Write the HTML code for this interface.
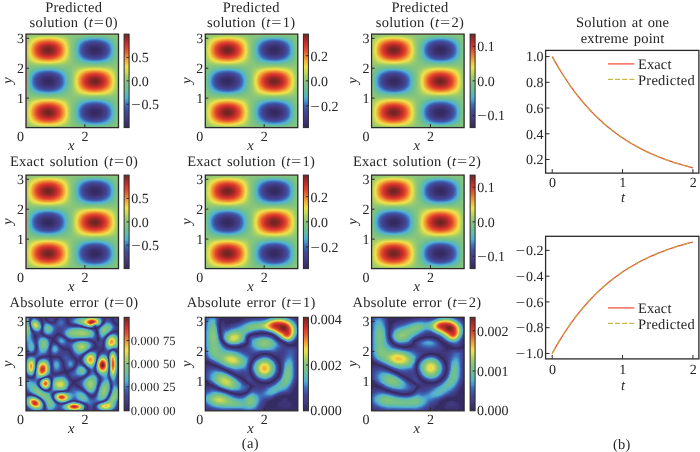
<!DOCTYPE html>
<html><head><meta charset="utf-8"><title>figure</title>
<style>
html,body{margin:0;padding:0;background:#fff;}
body{width:700px;height:452px;overflow:hidden;}
svg{display:block;font-family:"Liberation Serif",serif;fill:#262626;text-rendering:geometricPrecision;}
text{opacity:0.999;}
</style></head><body>
<svg width="700" height="452" viewBox="0 0 700 452">
<defs>
<linearGradient id="gx" x1="0" y1="0" x2="1" y2="0">
<stop offset="0.0000" stop-color="rgb(138,138,138)"/>
<stop offset="0.0208" stop-color="rgb(154,154,154)"/>
<stop offset="0.0417" stop-color="rgb(170,170,170)"/>
<stop offset="0.0625" stop-color="rgb(186,186,186)"/>
<stop offset="0.0833" stop-color="rgb(200,200,200)"/>
<stop offset="0.1042" stop-color="rgb(213,213,213)"/>
<stop offset="0.1250" stop-color="rgb(225,225,225)"/>
<stop offset="0.1458" stop-color="rgb(235,235,235)"/>
<stop offset="0.1667" stop-color="rgb(243,243,243)"/>
<stop offset="0.1875" stop-color="rgb(249,249,249)"/>
<stop offset="0.2083" stop-color="rgb(253,253,253)"/>
<stop offset="0.2292" stop-color="rgb(255,255,255)"/>
<stop offset="0.2500" stop-color="rgb(255,255,255)"/>
<stop offset="0.2708" stop-color="rgb(252,252,252)"/>
<stop offset="0.2917" stop-color="rgb(248,248,248)"/>
<stop offset="0.3125" stop-color="rgb(241,241,241)"/>
<stop offset="0.3333" stop-color="rgb(232,232,232)"/>
<stop offset="0.3542" stop-color="rgb(222,222,222)"/>
<stop offset="0.3750" stop-color="rgb(210,210,210)"/>
<stop offset="0.3958" stop-color="rgb(197,197,197)"/>
<stop offset="0.4167" stop-color="rgb(182,182,182)"/>
<stop offset="0.4375" stop-color="rgb(167,167,167)"/>
<stop offset="0.4583" stop-color="rgb(150,150,150)"/>
<stop offset="0.4792" stop-color="rgb(134,134,134)"/>
<stop offset="0.5000" stop-color="rgb(117,117,117)"/>
<stop offset="0.5208" stop-color="rgb(101,101,101)"/>
<stop offset="0.5417" stop-color="rgb(85,85,85)"/>
<stop offset="0.5625" stop-color="rgb(69,69,69)"/>
<stop offset="0.5833" stop-color="rgb(55,55,55)"/>
<stop offset="0.6042" stop-color="rgb(42,42,42)"/>
<stop offset="0.6250" stop-color="rgb(30,30,30)"/>
<stop offset="0.6458" stop-color="rgb(20,20,20)"/>
<stop offset="0.6667" stop-color="rgb(12,12,12)"/>
<stop offset="0.6875" stop-color="rgb(6,6,6)"/>
<stop offset="0.7083" stop-color="rgb(2,2,2)"/>
<stop offset="0.7292" stop-color="rgb(0,0,0)"/>
<stop offset="0.7500" stop-color="rgb(0,0,0)"/>
<stop offset="0.7708" stop-color="rgb(3,3,3)"/>
<stop offset="0.7917" stop-color="rgb(7,7,7)"/>
<stop offset="0.8125" stop-color="rgb(14,14,14)"/>
<stop offset="0.8333" stop-color="rgb(23,23,23)"/>
<stop offset="0.8542" stop-color="rgb(33,33,33)"/>
<stop offset="0.8750" stop-color="rgb(45,45,45)"/>
<stop offset="0.8958" stop-color="rgb(58,58,58)"/>
<stop offset="0.9167" stop-color="rgb(73,73,73)"/>
<stop offset="0.9375" stop-color="rgb(88,88,88)"/>
<stop offset="0.9583" stop-color="rgb(105,105,105)"/>
<stop offset="0.9792" stop-color="rgb(121,121,121)"/>
<stop offset="1.0000" stop-color="rgb(138,138,138)"/>
</linearGradient>
<linearGradient id="gy" x1="0" y1="0" x2="0" y2="1">
<stop offset="0.0000" stop-color="rgb(121,121,121)"/>
<stop offset="0.0139" stop-color="rgb(138,138,138)"/>
<stop offset="0.0278" stop-color="rgb(154,154,154)"/>
<stop offset="0.0417" stop-color="rgb(170,170,170)"/>
<stop offset="0.0556" stop-color="rgb(186,186,186)"/>
<stop offset="0.0694" stop-color="rgb(200,200,200)"/>
<stop offset="0.0833" stop-color="rgb(213,213,213)"/>
<stop offset="0.0972" stop-color="rgb(225,225,225)"/>
<stop offset="0.1111" stop-color="rgb(235,235,235)"/>
<stop offset="0.1250" stop-color="rgb(243,243,243)"/>
<stop offset="0.1389" stop-color="rgb(249,249,249)"/>
<stop offset="0.1528" stop-color="rgb(253,253,253)"/>
<stop offset="0.1667" stop-color="rgb(255,255,255)"/>
<stop offset="0.1806" stop-color="rgb(255,255,255)"/>
<stop offset="0.1944" stop-color="rgb(252,252,252)"/>
<stop offset="0.2083" stop-color="rgb(248,248,248)"/>
<stop offset="0.2222" stop-color="rgb(241,241,241)"/>
<stop offset="0.2361" stop-color="rgb(232,232,232)"/>
<stop offset="0.2500" stop-color="rgb(222,222,222)"/>
<stop offset="0.2639" stop-color="rgb(210,210,210)"/>
<stop offset="0.2778" stop-color="rgb(197,197,197)"/>
<stop offset="0.2917" stop-color="rgb(182,182,182)"/>
<stop offset="0.3056" stop-color="rgb(167,167,167)"/>
<stop offset="0.3194" stop-color="rgb(150,150,150)"/>
<stop offset="0.3333" stop-color="rgb(134,134,134)"/>
<stop offset="0.3472" stop-color="rgb(117,117,117)"/>
<stop offset="0.3611" stop-color="rgb(101,101,101)"/>
<stop offset="0.3750" stop-color="rgb(85,85,85)"/>
<stop offset="0.3889" stop-color="rgb(69,69,69)"/>
<stop offset="0.4028" stop-color="rgb(55,55,55)"/>
<stop offset="0.4167" stop-color="rgb(42,42,42)"/>
<stop offset="0.4306" stop-color="rgb(30,30,30)"/>
<stop offset="0.4444" stop-color="rgb(20,20,20)"/>
<stop offset="0.4583" stop-color="rgb(12,12,12)"/>
<stop offset="0.4722" stop-color="rgb(6,6,6)"/>
<stop offset="0.4861" stop-color="rgb(2,2,2)"/>
<stop offset="0.5000" stop-color="rgb(0,0,0)"/>
<stop offset="0.5139" stop-color="rgb(0,0,0)"/>
<stop offset="0.5278" stop-color="rgb(3,3,3)"/>
<stop offset="0.5417" stop-color="rgb(7,7,7)"/>
<stop offset="0.5556" stop-color="rgb(14,14,14)"/>
<stop offset="0.5694" stop-color="rgb(23,23,23)"/>
<stop offset="0.5833" stop-color="rgb(33,33,33)"/>
<stop offset="0.5972" stop-color="rgb(45,45,45)"/>
<stop offset="0.6111" stop-color="rgb(58,58,58)"/>
<stop offset="0.6250" stop-color="rgb(73,73,73)"/>
<stop offset="0.6389" stop-color="rgb(88,88,88)"/>
<stop offset="0.6528" stop-color="rgb(105,105,105)"/>
<stop offset="0.6667" stop-color="rgb(121,121,121)"/>
<stop offset="0.6806" stop-color="rgb(138,138,138)"/>
<stop offset="0.6944" stop-color="rgb(154,154,154)"/>
<stop offset="0.7083" stop-color="rgb(170,170,170)"/>
<stop offset="0.7222" stop-color="rgb(186,186,186)"/>
<stop offset="0.7361" stop-color="rgb(200,200,200)"/>
<stop offset="0.7500" stop-color="rgb(213,213,213)"/>
<stop offset="0.7639" stop-color="rgb(225,225,225)"/>
<stop offset="0.7778" stop-color="rgb(235,235,235)"/>
<stop offset="0.7917" stop-color="rgb(243,243,243)"/>
<stop offset="0.8056" stop-color="rgb(249,249,249)"/>
<stop offset="0.8194" stop-color="rgb(253,253,253)"/>
<stop offset="0.8333" stop-color="rgb(255,255,255)"/>
<stop offset="0.8472" stop-color="rgb(255,255,255)"/>
<stop offset="0.8611" stop-color="rgb(252,252,252)"/>
<stop offset="0.8750" stop-color="rgb(248,248,248)"/>
<stop offset="0.8889" stop-color="rgb(241,241,241)"/>
<stop offset="0.9028" stop-color="rgb(232,232,232)"/>
<stop offset="0.9167" stop-color="rgb(222,222,222)"/>
<stop offset="0.9306" stop-color="rgb(210,210,210)"/>
<stop offset="0.9444" stop-color="rgb(197,197,197)"/>
<stop offset="0.9583" stop-color="rgb(182,182,182)"/>
<stop offset="0.9722" stop-color="rgb(167,167,167)"/>
<stop offset="0.9861" stop-color="rgb(150,150,150)"/>
<stop offset="1.0000" stop-color="rgb(134,134,134)"/>
</linearGradient>
<linearGradient id="cb" x1="0" y1="1" x2="0" y2="0">
<stop offset="0.0000" stop-color="#342a5f"/>
<stop offset="0.0156" stop-color="#362d65"/>
<stop offset="0.0312" stop-color="#382f6a"/>
<stop offset="0.0469" stop-color="#3a3270"/>
<stop offset="0.0625" stop-color="#3c3475"/>
<stop offset="0.0781" stop-color="#3e377b"/>
<stop offset="0.0938" stop-color="#403a81"/>
<stop offset="0.1094" stop-color="#433c86"/>
<stop offset="0.1250" stop-color="#443f8b"/>
<stop offset="0.1406" stop-color="#42428f"/>
<stop offset="0.1562" stop-color="#414593"/>
<stop offset="0.1719" stop-color="#404998"/>
<stop offset="0.1875" stop-color="#3f50a0"/>
<stop offset="0.2031" stop-color="#3e58a7"/>
<stop offset="0.2188" stop-color="#3f60ae"/>
<stop offset="0.2344" stop-color="#3f68b5"/>
<stop offset="0.2500" stop-color="#4171bc"/>
<stop offset="0.2656" stop-color="#4481c4"/>
<stop offset="0.2812" stop-color="#4791cc"/>
<stop offset="0.2969" stop-color="#4b9ed1"/>
<stop offset="0.3125" stop-color="#4facd6"/>
<stop offset="0.3281" stop-color="#54b2ce"/>
<stop offset="0.3438" stop-color="#58b5c3"/>
<stop offset="0.3594" stop-color="#5db8b7"/>
<stop offset="0.3750" stop-color="#61bbad"/>
<stop offset="0.3906" stop-color="#66bda3"/>
<stop offset="0.4062" stop-color="#6bbe99"/>
<stop offset="0.4219" stop-color="#70c08f"/>
<stop offset="0.4375" stop-color="#75c18b"/>
<stop offset="0.4531" stop-color="#7ac287"/>
<stop offset="0.4688" stop-color="#7fc483"/>
<stop offset="0.4844" stop-color="#84c57f"/>
<stop offset="0.5000" stop-color="#89c67b"/>
<stop offset="0.5156" stop-color="#92c974"/>
<stop offset="0.5312" stop-color="#9bcc6d"/>
<stop offset="0.5469" stop-color="#a4cf67"/>
<stop offset="0.5625" stop-color="#b0d261"/>
<stop offset="0.5781" stop-color="#bdd65b"/>
<stop offset="0.5938" stop-color="#cbda56"/>
<stop offset="0.6094" stop-color="#d6dc53"/>
<stop offset="0.6250" stop-color="#e0de51"/>
<stop offset="0.6406" stop-color="#ebe04f"/>
<stop offset="0.6562" stop-color="#f1dc4c"/>
<stop offset="0.6719" stop-color="#f2d046"/>
<stop offset="0.6875" stop-color="#f2c440"/>
<stop offset="0.7031" stop-color="#f3b73b"/>
<stop offset="0.7188" stop-color="#f2ab38"/>
<stop offset="0.7344" stop-color="#f19e35"/>
<stop offset="0.7500" stop-color="#f09132"/>
<stop offset="0.7656" stop-color="#ed8431"/>
<stop offset="0.7812" stop-color="#eb7630"/>
<stop offset="0.7969" stop-color="#e8692f"/>
<stop offset="0.8125" stop-color="#e55b2e"/>
<stop offset="0.8281" stop-color="#e3502d"/>
<stop offset="0.8438" stop-color="#e0472d"/>
<stop offset="0.8594" stop-color="#dd3e2d"/>
<stop offset="0.8750" stop-color="#db352d"/>
<stop offset="0.8906" stop-color="#d2312c"/>
<stop offset="0.9062" stop-color="#c52e2b"/>
<stop offset="0.9219" stop-color="#b82c2a"/>
<stop offset="0.9375" stop-color="#ac2a28"/>
<stop offset="0.9531" stop-color="#9d2927"/>
<stop offset="0.9688" stop-color="#8e2825"/>
<stop offset="0.9844" stop-color="#7f2724"/>
<stop offset="1.0000" stop-color="#702622"/>
</linearGradient>
<linearGradient id="cbe" href="#cb"/>
<filter id="fs" filterUnits="userSpaceOnUse" x="0" y="0" width="189" height="93.5" color-interpolation-filters="sRGB">
<feOffset in="SourceGraphic" dx="-94.5" dy="0" result="B"/>
<feComposite in="SourceGraphic" in2="B" operator="arithmetic" k1="2" k2="-1" k3="-1" k4="1" result="P"/>
<feComponentTransfer in="P"><feFuncR type="table" tableValues="0.204 0.208 0.213 0.217 0.222 0.226 0.231 0.235 0.239 0.244 0.248 0.252 0.257 0.261 0.266 0.265 0.262 0.259 0.256 0.254 0.251 0.249 0.247 0.245 0.243 0.245 0.246 0.247 0.249 0.250 0.253 0.259 0.266 0.272 0.280 0.287 0.295 0.303 0.311 0.319 0.328 0.337 0.346 0.355 0.364 0.372 0.381 0.390 0.399 0.408 0.417 0.426 0.434 0.443 0.453 0.462 0.471 0.480 0.489 0.497 0.506 0.514 0.523 0.530 0.537 0.550 0.563 0.578 0.593 0.608 0.624 0.640 0.656 0.679 0.703 0.727 0.751 0.776 0.800 0.823 0.842 0.862 0.882 0.901 0.921 0.941 0.946 0.947 0.948 0.950 0.951 0.952 0.952 0.950 0.948 0.947 0.945 0.943 0.941 0.935 0.930 0.924 0.919 0.913 0.908 0.902 0.897 0.891 0.886 0.881 0.875 0.870 0.864 0.859 0.848 0.822 0.796 0.770 0.744 0.717 0.691 0.664 0.632 0.600 0.568 0.536 0.504 0.471 0.439"/><feFuncG type="table" tableValues="0.165 0.170 0.176 0.181 0.187 0.192 0.198 0.203 0.209 0.214 0.220 0.225 0.231 0.236 0.242 0.248 0.254 0.260 0.267 0.273 0.280 0.294 0.309 0.323 0.338 0.354 0.371 0.387 0.403 0.419 0.440 0.472 0.505 0.537 0.567 0.594 0.622 0.649 0.677 0.690 0.697 0.704 0.710 0.717 0.723 0.729 0.733 0.736 0.739 0.742 0.745 0.748 0.751 0.754 0.756 0.758 0.761 0.763 0.765 0.767 0.769 0.771 0.773 0.775 0.776 0.780 0.785 0.790 0.794 0.799 0.804 0.810 0.815 0.821 0.828 0.834 0.841 0.848 0.855 0.860 0.864 0.867 0.871 0.874 0.878 0.882 0.864 0.840 0.816 0.792 0.768 0.744 0.720 0.694 0.669 0.643 0.617 0.591 0.566 0.538 0.511 0.484 0.457 0.429 0.402 0.375 0.347 0.324 0.305 0.286 0.267 0.248 0.229 0.210 0.195 0.191 0.186 0.182 0.178 0.173 0.169 0.165 0.162 0.160 0.158 0.156 0.153 0.151 0.149"/><feFuncB type="table" tableValues="0.373 0.385 0.396 0.408 0.420 0.432 0.444 0.456 0.468 0.480 0.491 0.503 0.515 0.527 0.538 0.547 0.556 0.564 0.572 0.581 0.589 0.605 0.621 0.636 0.652 0.665 0.679 0.692 0.706 0.719 0.734 0.751 0.769 0.786 0.799 0.809 0.819 0.829 0.840 0.829 0.807 0.785 0.763 0.741 0.720 0.698 0.679 0.660 0.641 0.623 0.604 0.586 0.567 0.554 0.547 0.540 0.533 0.526 0.519 0.513 0.506 0.500 0.493 0.488 0.482 0.473 0.463 0.452 0.441 0.430 0.418 0.406 0.394 0.384 0.375 0.365 0.355 0.345 0.336 0.328 0.325 0.321 0.317 0.314 0.310 0.307 0.297 0.286 0.275 0.264 0.253 0.242 0.233 0.227 0.220 0.214 0.208 0.202 0.196 0.194 0.191 0.189 0.187 0.184 0.182 0.180 0.178 0.176 0.176 0.176 0.176 0.176 0.176 0.176 0.176 0.173 0.170 0.168 0.165 0.162 0.159 0.157 0.153 0.150 0.147 0.143 0.140 0.137 0.133"/></feComponentTransfer>
</filter>
<radialGradient id="gp">
<stop offset="0.00" stop-color="#fff" stop-opacity="1.000"/>
<stop offset="0.05" stop-color="#fff" stop-opacity="0.989"/>
<stop offset="0.10" stop-color="#fff" stop-opacity="0.957"/>
<stop offset="0.15" stop-color="#fff" stop-opacity="0.906"/>
<stop offset="0.20" stop-color="#fff" stop-opacity="0.839"/>
<stop offset="0.25" stop-color="#fff" stop-opacity="0.762"/>
<stop offset="0.30" stop-color="#fff" stop-opacity="0.678"/>
<stop offset="0.35" stop-color="#fff" stop-opacity="0.592"/>
<stop offset="0.40" stop-color="#fff" stop-opacity="0.508"/>
<stop offset="0.45" stop-color="#fff" stop-opacity="0.429"/>
<stop offset="0.50" stop-color="#fff" stop-opacity="0.356"/>
<stop offset="0.55" stop-color="#fff" stop-opacity="0.292"/>
<stop offset="0.60" stop-color="#fff" stop-opacity="0.235"/>
<stop offset="0.65" stop-color="#fff" stop-opacity="0.186"/>
<stop offset="0.70" stop-color="#fff" stop-opacity="0.144"/>
<stop offset="0.75" stop-color="#fff" stop-opacity="0.108"/>
<stop offset="0.80" stop-color="#fff" stop-opacity="0.078"/>
<stop offset="0.85" stop-color="#fff" stop-opacity="0.052"/>
<stop offset="0.90" stop-color="#fff" stop-opacity="0.030"/>
<stop offset="0.95" stop-color="#fff" stop-opacity="0.013"/>
<stop offset="1.00" stop-color="#fff" stop-opacity="0.003"/>
</radialGradient>
<radialGradient id="gn">
<stop offset="0.00" stop-color="#000" stop-opacity="1.000"/>
<stop offset="0.05" stop-color="#000" stop-opacity="0.989"/>
<stop offset="0.10" stop-color="#000" stop-opacity="0.957"/>
<stop offset="0.15" stop-color="#000" stop-opacity="0.906"/>
<stop offset="0.20" stop-color="#000" stop-opacity="0.839"/>
<stop offset="0.25" stop-color="#000" stop-opacity="0.762"/>
<stop offset="0.30" stop-color="#000" stop-opacity="0.678"/>
<stop offset="0.35" stop-color="#000" stop-opacity="0.592"/>
<stop offset="0.40" stop-color="#000" stop-opacity="0.508"/>
<stop offset="0.45" stop-color="#000" stop-opacity="0.429"/>
<stop offset="0.50" stop-color="#000" stop-opacity="0.356"/>
<stop offset="0.55" stop-color="#000" stop-opacity="0.292"/>
<stop offset="0.60" stop-color="#000" stop-opacity="0.235"/>
<stop offset="0.65" stop-color="#000" stop-opacity="0.186"/>
<stop offset="0.70" stop-color="#000" stop-opacity="0.144"/>
<stop offset="0.75" stop-color="#000" stop-opacity="0.108"/>
<stop offset="0.80" stop-color="#000" stop-opacity="0.078"/>
<stop offset="0.85" stop-color="#000" stop-opacity="0.052"/>
<stop offset="0.90" stop-color="#000" stop-opacity="0.030"/>
<stop offset="0.95" stop-color="#000" stop-opacity="0.013"/>
<stop offset="1.00" stop-color="#000" stop-opacity="0.003"/>
</radialGradient>
<filter id="fe" filterUnits="userSpaceOnUse" x="-10" y="-10" width="232.5" height="113.5" color-interpolation-filters="sRGB">
<feOffset in="SourceGraphic" dx="-120" dy="0" result="N"/>
<feComposite in="SourceGraphic" in2="N" operator="arithmetic" k1="0" k2="0.5" k3="0.5" k4="0" result="S"/>
<feGaussianBlur in="S" stdDeviation="0.7" result="G"/>
<feComponentTransfer in="G"><feFuncR type="table" tableValues="0.439 0.481 0.523 0.564 0.607 0.649 0.687 0.723 0.758 0.794 0.830 0.857 0.865 0.873 0.880 0.888 0.896 0.904 0.912 0.920 0.928 0.936 0.942 0.945 0.948 0.951 0.952 0.950 0.948 0.946 0.925 0.891 0.856 0.821 0.777 0.731 0.684 0.644 0.611 0.578 0.545 0.523 0.503 0.484 0.464 0.444 0.425 0.406 0.387 0.367 0.348 0.328 0.308 0.290 0.272 0.256 0.249 0.245 0.245 0.251 0.259 0.265 0.250 0.232 0.204 0.232 0.250 0.265 0.259 0.251 0.245 0.245 0.249 0.256 0.272 0.290 0.308 0.328 0.348 0.367 0.387 0.406 0.425 0.444 0.464 0.484 0.503 0.523 0.545 0.578 0.611 0.644 0.684 0.731 0.777 0.821 0.856 0.891 0.925 0.946 0.948 0.950 0.952 0.951 0.948 0.945 0.942 0.936 0.928 0.920 0.912 0.904 0.896 0.888 0.880 0.873 0.865 0.857 0.830 0.794 0.758 0.723 0.687 0.649 0.607 0.564 0.523 0.481 0.439"/><feFuncG type="table" tableValues="0.149 0.152 0.155 0.158 0.161 0.163 0.168 0.174 0.180 0.186 0.192 0.204 0.231 0.258 0.285 0.312 0.341 0.382 0.422 0.463 0.504 0.545 0.586 0.626 0.666 0.707 0.747 0.786 0.826 0.866 0.879 0.872 0.866 0.860 0.848 0.835 0.823 0.811 0.800 0.790 0.779 0.773 0.768 0.764 0.759 0.754 0.748 0.741 0.734 0.725 0.711 0.696 0.667 0.603 0.536 0.457 0.404 0.362 0.321 0.280 0.261 0.241 0.222 0.200 0.165 0.200 0.222 0.241 0.261 0.280 0.321 0.362 0.404 0.457 0.536 0.603 0.667 0.696 0.711 0.725 0.734 0.741 0.748 0.754 0.759 0.764 0.768 0.773 0.779 0.790 0.800 0.811 0.823 0.835 0.848 0.860 0.866 0.872 0.879 0.866 0.826 0.786 0.747 0.707 0.666 0.626 0.586 0.545 0.504 0.463 0.422 0.382 0.341 0.312 0.285 0.258 0.231 0.204 0.192 0.186 0.180 0.174 0.168 0.163 0.161 0.158 0.155 0.152 0.149"/><feFuncB type="table" tableValues="0.133 0.138 0.142 0.146 0.151 0.155 0.159 0.163 0.166 0.170 0.174 0.176 0.176 0.176 0.176 0.176 0.177 0.180 0.184 0.187 0.191 0.194 0.200 0.210 0.220 0.230 0.243 0.262 0.280 0.298 0.310 0.316 0.322 0.328 0.345 0.363 0.382 0.403 0.427 0.452 0.477 0.494 0.508 0.523 0.538 0.553 0.587 0.627 0.668 0.712 0.760 0.809 0.836 0.812 0.785 0.743 0.706 0.672 0.633 0.590 0.565 0.538 0.497 0.449 0.373 0.449 0.497 0.538 0.565 0.590 0.633 0.672 0.706 0.743 0.785 0.812 0.836 0.809 0.760 0.712 0.668 0.627 0.587 0.553 0.538 0.523 0.508 0.494 0.477 0.452 0.427 0.403 0.382 0.363 0.345 0.328 0.322 0.316 0.310 0.298 0.280 0.262 0.243 0.230 0.220 0.210 0.200 0.194 0.191 0.187 0.184 0.180 0.177 0.176 0.176 0.176 0.176 0.176 0.174 0.170 0.166 0.163 0.159 0.155 0.151 0.146 0.142 0.138 0.133"/></feComponentTransfer>
</filter>
<clipPath id="cl"><rect x="0" y="0" width="92.5" height="93.5"/></clipPath>
<g id="sinmap" clip-path="url(#cl)"><g filter="url(#fs)">
<rect x="0" y="0" width="93.5" height="93.5" fill="url(#gx)"/>
<rect x="94.5" y="0" width="93.5" height="93.5" fill="url(#gy)"/>
</g></g>
</defs>
<use href="#sinmap" x="26" y="34.1"/>
<rect x="26" y="34.1" width="92.5" height="93.5" fill="none" stroke="#2a2a2a" stroke-width="1.3"/>
<path d="M26 98.1h3" stroke="#2a2a2a" stroke-width="1"/>
<text x="24" y="102.9" text-anchor="end" font-size="14" letter-spacing="0" >1</text>
<path d="M26 68.2h3" stroke="#2a2a2a" stroke-width="1"/>
<text x="24" y="73" text-anchor="end" font-size="14" letter-spacing="0" >2</text>
<path d="M26 38.3h3" stroke="#2a2a2a" stroke-width="1"/>
<text x="24" y="43.1" text-anchor="end" font-size="14" letter-spacing="0" >3</text>
<path d="M84.8873 127.6v-3.5" stroke="#2a2a2a" stroke-width="1"/>
<text x="84.8873" y="140.6" text-anchor="middle" font-size="14" letter-spacing="0" >2</text>
<text x="20.5" y="140.6" text-anchor="middle" font-size="14" letter-spacing="0" >0</text>
<text x="71.2" y="149.9" text-anchor="middle" font-size="14.5" letter-spacing="0" ><tspan font-style="italic">x</tspan></text>
<text transform="translate(11.6 80.6) rotate(-90)" text-anchor="middle" font-size="14.5" font-style="italic">y</text>
<rect x="124.1" y="34.1" width="5" height="93.5" fill="url(#cb)" stroke="#2a2a2a" stroke-width="1"/>
<path d="M129.1 104.225h-2.5" stroke="#2a2a2a" stroke-width="1"/>
<text x="131.3" y="109.025" text-anchor="start" font-size="14" letter-spacing="0" ><tspan textLength="9.4" lengthAdjust="spacingAndGlyphs">−</tspan><tspan dx="0.9">0.5</tspan></text>
<path d="M129.1 80.85h-2.5" stroke="#2a2a2a" stroke-width="1"/>
<text x="131.3" y="85.65" text-anchor="start" font-size="14" letter-spacing="0" >0.0</text>
<path d="M129.1 57.475h-2.5" stroke="#2a2a2a" stroke-width="1"/>
<text x="131.3" y="62.275" text-anchor="start" font-size="14" letter-spacing="0" >0.5</text>
<use href="#sinmap" x="205.3" y="34.1"/>
<rect x="205.3" y="34.1" width="92.5" height="93.5" fill="none" stroke="#2a2a2a" stroke-width="1.3"/>
<path d="M205.3 98.1h3" stroke="#2a2a2a" stroke-width="1"/>
<text x="203.3" y="102.9" text-anchor="end" font-size="14" letter-spacing="0" >1</text>
<path d="M205.3 68.2h3" stroke="#2a2a2a" stroke-width="1"/>
<text x="203.3" y="73" text-anchor="end" font-size="14" letter-spacing="0" >2</text>
<path d="M205.3 38.3h3" stroke="#2a2a2a" stroke-width="1"/>
<text x="203.3" y="43.1" text-anchor="end" font-size="14" letter-spacing="0" >3</text>
<path d="M264.187 127.6v-3.5" stroke="#2a2a2a" stroke-width="1"/>
<text x="264.187" y="140.6" text-anchor="middle" font-size="14" letter-spacing="0" >2</text>
<text x="199.8" y="140.6" text-anchor="middle" font-size="14" letter-spacing="0" >0</text>
<text x="250.5" y="149.9" text-anchor="middle" font-size="14.5" letter-spacing="0" ><tspan font-style="italic">x</tspan></text>
<text transform="translate(190.9 80.6) rotate(-90)" text-anchor="middle" font-size="14.5" font-style="italic">y</text>
<rect x="303.4" y="34.1" width="5" height="93.5" fill="url(#cb)" stroke="#2a2a2a" stroke-width="1"/>
<path d="M308.4 105.984h-2.5" stroke="#2a2a2a" stroke-width="1"/>
<text x="310.6" y="110.784" text-anchor="start" font-size="14" letter-spacing="0" ><tspan textLength="9.4" lengthAdjust="spacingAndGlyphs">−</tspan><tspan dx="0.9">0.2</tspan></text>
<path d="M308.4 80.85h-2.5" stroke="#2a2a2a" stroke-width="1"/>
<text x="310.6" y="85.65" text-anchor="start" font-size="14" letter-spacing="0" >0.0</text>
<path d="M308.4 55.7156h-2.5" stroke="#2a2a2a" stroke-width="1"/>
<text x="310.6" y="60.5156" text-anchor="start" font-size="14" letter-spacing="0" >0.2</text>
<use href="#sinmap" x="371.6" y="34.1"/>
<rect x="371.6" y="34.1" width="92.5" height="93.5" fill="none" stroke="#2a2a2a" stroke-width="1.3"/>
<path d="M371.6 98.1h3" stroke="#2a2a2a" stroke-width="1"/>
<text x="369.6" y="102.9" text-anchor="end" font-size="14" letter-spacing="0" >1</text>
<path d="M371.6 68.2h3" stroke="#2a2a2a" stroke-width="1"/>
<text x="369.6" y="73" text-anchor="end" font-size="14" letter-spacing="0" >2</text>
<path d="M371.6 38.3h3" stroke="#2a2a2a" stroke-width="1"/>
<text x="369.6" y="43.1" text-anchor="end" font-size="14" letter-spacing="0" >3</text>
<path d="M430.487 127.6v-3.5" stroke="#2a2a2a" stroke-width="1"/>
<text x="430.487" y="140.6" text-anchor="middle" font-size="14" letter-spacing="0" >2</text>
<text x="366.1" y="140.6" text-anchor="middle" font-size="14" letter-spacing="0" >0</text>
<text x="416.8" y="149.9" text-anchor="middle" font-size="14.5" letter-spacing="0" ><tspan font-style="italic">x</tspan></text>
<text transform="translate(357.2 80.6) rotate(-90)" text-anchor="middle" font-size="14.5" font-style="italic">y</text>
<rect x="470.1" y="34.1" width="5" height="93.5" fill="url(#cb)" stroke="#2a2a2a" stroke-width="1"/>
<path d="M475.1 115.394h-2.5" stroke="#2a2a2a" stroke-width="1"/>
<text x="477.3" y="120.194" text-anchor="start" font-size="14" letter-spacing="0" ><tspan textLength="9.4" lengthAdjust="spacingAndGlyphs">−</tspan><tspan dx="0.9">0.1</tspan></text>
<path d="M475.1 80.85h-2.5" stroke="#2a2a2a" stroke-width="1"/>
<text x="477.3" y="85.65" text-anchor="start" font-size="14" letter-spacing="0" >0.0</text>
<path d="M475.1 46.3062h-2.5" stroke="#2a2a2a" stroke-width="1"/>
<text x="477.3" y="51.1062" text-anchor="start" font-size="14" letter-spacing="0" >0.1</text>
<use href="#sinmap" x="26" y="175.1"/>
<rect x="26" y="175.1" width="92.5" height="93.5" fill="none" stroke="#2a2a2a" stroke-width="1.3"/>
<path d="M26 239.1h3" stroke="#2a2a2a" stroke-width="1"/>
<text x="24" y="243.9" text-anchor="end" font-size="14" letter-spacing="0" >1</text>
<path d="M26 209.2h3" stroke="#2a2a2a" stroke-width="1"/>
<text x="24" y="214" text-anchor="end" font-size="14" letter-spacing="0" >2</text>
<path d="M26 179.3h3" stroke="#2a2a2a" stroke-width="1"/>
<text x="24" y="184.1" text-anchor="end" font-size="14" letter-spacing="0" >3</text>
<path d="M84.8873 268.6v-3.5" stroke="#2a2a2a" stroke-width="1"/>
<text x="84.8873" y="281.6" text-anchor="middle" font-size="14" letter-spacing="0" >2</text>
<text x="20.5" y="281.6" text-anchor="middle" font-size="14" letter-spacing="0" >0</text>
<text x="71.2" y="290.9" text-anchor="middle" font-size="14.5" letter-spacing="0" ><tspan font-style="italic">x</tspan></text>
<text transform="translate(11.6 221.6) rotate(-90)" text-anchor="middle" font-size="14.5" font-style="italic">y</text>
<rect x="124.1" y="175.1" width="5" height="93.5" fill="url(#cb)" stroke="#2a2a2a" stroke-width="1"/>
<path d="M129.1 245.225h-2.5" stroke="#2a2a2a" stroke-width="1"/>
<text x="131.3" y="250.025" text-anchor="start" font-size="14" letter-spacing="0" ><tspan textLength="9.4" lengthAdjust="spacingAndGlyphs">−</tspan><tspan dx="0.9">0.5</tspan></text>
<path d="M129.1 221.85h-2.5" stroke="#2a2a2a" stroke-width="1"/>
<text x="131.3" y="226.65" text-anchor="start" font-size="14" letter-spacing="0" >0.0</text>
<path d="M129.1 198.475h-2.5" stroke="#2a2a2a" stroke-width="1"/>
<text x="131.3" y="203.275" text-anchor="start" font-size="14" letter-spacing="0" >0.5</text>
<use href="#sinmap" x="205.3" y="175.1"/>
<rect x="205.3" y="175.1" width="92.5" height="93.5" fill="none" stroke="#2a2a2a" stroke-width="1.3"/>
<path d="M205.3 239.1h3" stroke="#2a2a2a" stroke-width="1"/>
<text x="203.3" y="243.9" text-anchor="end" font-size="14" letter-spacing="0" >1</text>
<path d="M205.3 209.2h3" stroke="#2a2a2a" stroke-width="1"/>
<text x="203.3" y="214" text-anchor="end" font-size="14" letter-spacing="0" >2</text>
<path d="M205.3 179.3h3" stroke="#2a2a2a" stroke-width="1"/>
<text x="203.3" y="184.1" text-anchor="end" font-size="14" letter-spacing="0" >3</text>
<path d="M264.187 268.6v-3.5" stroke="#2a2a2a" stroke-width="1"/>
<text x="264.187" y="281.6" text-anchor="middle" font-size="14" letter-spacing="0" >2</text>
<text x="199.8" y="281.6" text-anchor="middle" font-size="14" letter-spacing="0" >0</text>
<text x="250.5" y="290.9" text-anchor="middle" font-size="14.5" letter-spacing="0" ><tspan font-style="italic">x</tspan></text>
<text transform="translate(190.9 221.6) rotate(-90)" text-anchor="middle" font-size="14.5" font-style="italic">y</text>
<rect x="303.4" y="175.1" width="5" height="93.5" fill="url(#cb)" stroke="#2a2a2a" stroke-width="1"/>
<path d="M308.4 246.984h-2.5" stroke="#2a2a2a" stroke-width="1"/>
<text x="310.6" y="251.784" text-anchor="start" font-size="14" letter-spacing="0" ><tspan textLength="9.4" lengthAdjust="spacingAndGlyphs">−</tspan><tspan dx="0.9">0.2</tspan></text>
<path d="M308.4 221.85h-2.5" stroke="#2a2a2a" stroke-width="1"/>
<text x="310.6" y="226.65" text-anchor="start" font-size="14" letter-spacing="0" >0.0</text>
<path d="M308.4 196.716h-2.5" stroke="#2a2a2a" stroke-width="1"/>
<text x="310.6" y="201.516" text-anchor="start" font-size="14" letter-spacing="0" >0.2</text>
<use href="#sinmap" x="371.6" y="175.1"/>
<rect x="371.6" y="175.1" width="92.5" height="93.5" fill="none" stroke="#2a2a2a" stroke-width="1.3"/>
<path d="M371.6 239.1h3" stroke="#2a2a2a" stroke-width="1"/>
<text x="369.6" y="243.9" text-anchor="end" font-size="14" letter-spacing="0" >1</text>
<path d="M371.6 209.2h3" stroke="#2a2a2a" stroke-width="1"/>
<text x="369.6" y="214" text-anchor="end" font-size="14" letter-spacing="0" >2</text>
<path d="M371.6 179.3h3" stroke="#2a2a2a" stroke-width="1"/>
<text x="369.6" y="184.1" text-anchor="end" font-size="14" letter-spacing="0" >3</text>
<path d="M430.487 268.6v-3.5" stroke="#2a2a2a" stroke-width="1"/>
<text x="430.487" y="281.6" text-anchor="middle" font-size="14" letter-spacing="0" >2</text>
<text x="366.1" y="281.6" text-anchor="middle" font-size="14" letter-spacing="0" >0</text>
<text x="416.8" y="290.9" text-anchor="middle" font-size="14.5" letter-spacing="0" ><tspan font-style="italic">x</tspan></text>
<text transform="translate(357.2 221.6) rotate(-90)" text-anchor="middle" font-size="14.5" font-style="italic">y</text>
<rect x="470.1" y="175.1" width="5" height="93.5" fill="url(#cb)" stroke="#2a2a2a" stroke-width="1"/>
<path d="M475.1 256.394h-2.5" stroke="#2a2a2a" stroke-width="1"/>
<text x="477.3" y="261.194" text-anchor="start" font-size="14" letter-spacing="0" ><tspan textLength="9.4" lengthAdjust="spacingAndGlyphs">−</tspan><tspan dx="0.9">0.1</tspan></text>
<path d="M475.1 221.85h-2.5" stroke="#2a2a2a" stroke-width="1"/>
<text x="477.3" y="226.65" text-anchor="start" font-size="14" letter-spacing="0" >0.0</text>
<path d="M475.1 187.306h-2.5" stroke="#2a2a2a" stroke-width="1"/>
<text x="477.3" y="192.106" text-anchor="start" font-size="14" letter-spacing="0" >0.1</text>
<g transform="translate(26 317.3)" clip-path="url(#cl)"><g filter="url(#fe)">
<rect x="-10" y="-10" width="112.5" height="113.5" fill="#000"/>
<ellipse cx="1.3" cy="10" rx="7.47175" ry="23.7737" fill="url(#gp)" opacity="0.425686"/>
<ellipse cx="20.7" cy="12.2" rx="14.04" ry="17.55" fill="url(#gp)" opacity="0.371499"/>
<ellipse cx="34" cy="5" rx="12.285" ry="10.53" fill="url(#gp)" opacity="0.162265"/>
<ellipse cx="45.6" cy="16.6" rx="17.55" ry="12.285" fill="url(#gp)" opacity="0.289591"/>
<ellipse cx="57.8" cy="16.6" rx="21.9277" ry="12.8193" fill="url(#gp)" opacity="0.436786"/>
<ellipse cx="79.4" cy="12.7" rx="19.305" ry="14.04" fill="url(#gp)" opacity="0.371499" transform="rotate(-40 79.4 12.7)"/>
<ellipse cx="6" cy="30" rx="9.828" ry="19.305" fill="url(#gp)" opacity="0.25101"/>
<ellipse cx="28.4" cy="31.5" rx="10.53" ry="14.04" fill="url(#gp)" opacity="0.25101"/>
<ellipse cx="72" cy="27" rx="14.04" ry="14.04" fill="url(#gp)" opacity="0.0863184"/>
<ellipse cx="44" cy="33" rx="12.285" ry="14.04" fill="url(#gp)" opacity="0.0863184"/>
<ellipse cx="64.3" cy="42.2" rx="13.0309" ry="15.9266" fill="url(#gp)" opacity="0.688405"/>
<ellipse cx="86.8" cy="47" rx="6.78437" ry="28.4944" fill="url(#gp)" opacity="0.792811"/>
<ellipse cx="16.6" cy="52" rx="11.7" ry="16.9" fill="url(#gp)" opacity="0.860265" transform="rotate(10 16.6 52)"/>
<ellipse cx="45" cy="47.3" rx="10.53" ry="10.53" fill="url(#gp)" opacity="0.179073"/>
<ellipse cx="38" cy="40" rx="14.04" ry="10.53" fill="url(#gp)" opacity="0.0863184"/>
<ellipse cx="34.5" cy="67.1" rx="21.0405" ry="14.5665" fill="url(#gp)" opacity="0.505146"/>
<ellipse cx="64.5" cy="67.6" rx="16.9812" ry="27.17" fill="url(#gp)" opacity="0.425686"/>
<ellipse cx="14.6" cy="75.9" rx="35.1" ry="12.285" fill="url(#gp)" opacity="0.371499" transform="rotate(35 14.6 75.9)"/>
<ellipse cx="5" cy="62" rx="10.53" ry="10.53" fill="url(#gp)" opacity="0.100339"/>
<ellipse cx="48.5" cy="89.4" rx="16.9" ry="7.28" fill="url(#gp)" opacity="0.887704"/>
<ellipse cx="78.3" cy="88.8" rx="16.8025" ry="7.943" fill="url(#gp)" opacity="0.600774"/>
<ellipse cx="85.5" cy="83" rx="8.775" ry="17.55" fill="url(#gp)" opacity="0.319587" transform="rotate(40 85.5 83)"/>
<ellipse cx="88.6" cy="75" rx="8.073" ry="17.55" fill="url(#gp)" opacity="0.289591" transform="rotate(5 88.6 75)"/>
<ellipse cx="24" cy="88" rx="10.53" ry="14.04" fill="url(#gp)" opacity="0.223187"/>
<path d="M69.0 9.5C69.2 10.1 70.1 11.6 70.5 13.0C70.9 14.4 71.2 16.4 71.5 18.0C71.8 19.6 72.2 21.8 72.3 22.5" fill="none" stroke="#000" stroke-width="9" stroke-opacity="0.22" stroke-linecap="round"/>
<path d="M69.0 9.5C69.2 10.1 70.1 11.6 70.5 13.0C70.9 14.4 71.2 16.4 71.5 18.0C71.8 19.6 72.2 21.8 72.3 22.5" fill="none" stroke="#000" stroke-width="6" stroke-opacity="0.3" stroke-linecap="round"/>
<path d="M69.0 9.5C69.2 10.1 70.1 11.6 70.5 13.0C70.9 14.4 71.2 16.4 71.5 18.0C71.8 19.6 72.2 21.8 72.3 22.5" fill="none" stroke="#000" stroke-width="3.6" stroke-opacity="0.45" stroke-linecap="round"/>
<path d="M69.0 9.5C69.2 10.1 70.1 11.6 70.5 13.0C70.9 14.4 71.2 16.4 71.5 18.0C71.8 19.6 72.2 21.8 72.3 22.5" fill="none" stroke="#000" stroke-width="1.8" stroke-opacity="0.9" stroke-linecap="round"/>
<g transform="translate(120 0)"><rect x="-10" y="-10" width="112.5" height="113.5" fill="#fff"/>
<ellipse cx="10" cy="8" rx="14.2594" ry="9.50625" fill="url(#gn)" opacity="0.540422" transform="rotate(35 10 8)"/>
<ellipse cx="25" cy="3.5" rx="14.04" ry="8.775" fill="url(#gn)" opacity="0.179073"/>
<ellipse cx="54" cy="4" rx="17.55" ry="8.775" fill="url(#gn)" opacity="0.270094"/>
<ellipse cx="66.1" cy="5" rx="15.6" ry="9.1" fill="url(#gn)" opacity="0.929344"/>
<ellipse cx="89.5" cy="4" rx="10.53" ry="10.53" fill="url(#gn)" opacity="0.100339"/>
<ellipse cx="17.9" cy="26" rx="14.04" ry="21.06" fill="url(#gn)" opacity="0.371499"/>
<ellipse cx="35.6" cy="23.2" rx="12.285" ry="10.53" fill="url(#gn)" opacity="0.223187"/>
<ellipse cx="55.8" cy="29.4" rx="21.7799" ry="16.7538" fill="url(#gn)" opacity="0.447971"/>
<ellipse cx="85.8" cy="24.9" rx="11.31" ry="15.5512" fill="url(#gn)" opacity="0.727038"/>
<ellipse cx="76.4" cy="47.8" rx="11.18" ry="15.6" fill="url(#gn)" opacity="1"/>
<ellipse cx="5.2" cy="49" rx="8.82375" ry="17.6475" fill="url(#gn)" opacity="0.663004"/>
<ellipse cx="30.6" cy="47.3" rx="10.53" ry="17.55" fill="url(#gn)" opacity="0.205193"/>
<ellipse cx="57.2" cy="53.6" rx="15.795" ry="14.04" fill="url(#gn)" opacity="0.371499"/>
<ellipse cx="11" cy="38" rx="10.53" ry="10.53" fill="url(#gn)" opacity="0.100339"/>
<ellipse cx="19.6" cy="66.2" rx="10.4" ry="11.7" fill="url(#gn)" opacity="0.860265"/>
<ellipse cx="77.2" cy="73.7" rx="13.585" ry="27.17" fill="url(#gn)" opacity="0.425686" transform="rotate(20 77.2 73.7)"/>
<ellipse cx="44.5" cy="70" rx="10.53" ry="14.04" fill="url(#gn)" opacity="0.179073"/>
<ellipse cx="45" cy="59" rx="10.53" ry="10.53" fill="url(#gn)" opacity="0.100339"/>
<ellipse cx="9" cy="85.6" rx="14.3" ry="10.4" fill="url(#gn)" opacity="0.887704" transform="rotate(25 9 85.6)"/>
<ellipse cx="35.6" cy="79.8" rx="14.3" ry="9.1" fill="url(#gn)" opacity="0.860265"/>
<ellipse cx="57.8" cy="79.2" rx="19.305" ry="14.04" fill="url(#gn)" opacity="0.371499" transform="rotate(30 57.8 79.2)"/>
<ellipse cx="66" cy="88" rx="14.04" ry="10.53" fill="url(#gn)" opacity="0.100339"/>
<path d="M69.0 9.5C69.2 10.1 70.1 11.6 70.5 13.0C70.9 14.4 71.2 16.4 71.5 18.0C71.8 19.6 72.2 21.8 72.3 22.5" fill="none" stroke="#fff" stroke-width="9" stroke-opacity="0.22" stroke-linecap="round"/>
<path d="M69.0 9.5C69.2 10.1 70.1 11.6 70.5 13.0C70.9 14.4 71.2 16.4 71.5 18.0C71.8 19.6 72.2 21.8 72.3 22.5" fill="none" stroke="#fff" stroke-width="6" stroke-opacity="0.3" stroke-linecap="round"/>
<path d="M69.0 9.5C69.2 10.1 70.1 11.6 70.5 13.0C70.9 14.4 71.2 16.4 71.5 18.0C71.8 19.6 72.2 21.8 72.3 22.5" fill="none" stroke="#fff" stroke-width="3.6" stroke-opacity="0.45" stroke-linecap="round"/>
<path d="M69.0 9.5C69.2 10.1 70.1 11.6 70.5 13.0C70.9 14.4 71.2 16.4 71.5 18.0C71.8 19.6 72.2 21.8 72.3 22.5" fill="none" stroke="#fff" stroke-width="1.8" stroke-opacity="0.9" stroke-linecap="round"/>
</g></g></g>
<rect x="26" y="317.3" width="92.5" height="93.5" fill="none" stroke="#2a2a2a" stroke-width="1.3"/>
<path d="M26 381.3h3" stroke="#2a2a2a" stroke-width="1"/>
<text x="24" y="386.1" text-anchor="end" font-size="14" letter-spacing="0" >1</text>
<path d="M26 351.4h3" stroke="#2a2a2a" stroke-width="1"/>
<text x="24" y="356.2" text-anchor="end" font-size="14" letter-spacing="0" >2</text>
<path d="M26 321.5h3" stroke="#2a2a2a" stroke-width="1"/>
<text x="24" y="326.3" text-anchor="end" font-size="14" letter-spacing="0" >3</text>
<path d="M84.8873 410.8v-3.5" stroke="#2a2a2a" stroke-width="1"/>
<text x="84.8873" y="423.8" text-anchor="middle" font-size="14" letter-spacing="0" >2</text>
<text x="20.5" y="423.8" text-anchor="middle" font-size="14" letter-spacing="0" >0</text>
<text x="71.2" y="433.1" text-anchor="middle" font-size="14.5" letter-spacing="0" ><tspan font-style="italic">x</tspan></text>
<text transform="translate(11.6 363.8) rotate(-90)" text-anchor="middle" font-size="14.5" font-style="italic">y</text>
<g transform="translate(205.3 317.3)" clip-path="url(#cl)"><g filter="url(#fe)">
<rect x="-10" y="-10" width="112.5" height="113.5" fill="#000"/>
<ellipse cx="78.2" cy="10.6" rx="19.5" ry="14.56" fill="url(#gp)" opacity="1" transform="rotate(10 78.2 10.6)"/>
<ellipse cx="70.5" cy="8.2" rx="16.965" ry="10.179" fill="url(#gp)" opacity="0.727038"/>
<ellipse cx="82" cy="16.5" rx="11.8755" ry="12.7238" fill="url(#gp)" opacity="0.727038"/>
<ellipse cx="60" cy="8.6" rx="35.1" ry="11.232" fill="url(#gp)" opacity="0.371499" transform="rotate(-3 60 8.6)"/>
<ellipse cx="44" cy="11" rx="17.55" ry="12.285" fill="url(#gp)" opacity="0.179073" transform="rotate(-25 44 11)"/>
<ellipse cx="28.7" cy="20.5" rx="22.659" ry="16.185" fill="url(#gp)" opacity="0.505146" transform="rotate(-15 28.7 20.5)"/>
<ellipse cx="7.7" cy="18" rx="14.742" ry="35.1" fill="url(#gp)" opacity="0.371499"/>
<ellipse cx="9.5" cy="34" rx="15.795" ry="17.55" fill="url(#gp)" opacity="0.179073" transform="rotate(-30 9.5 34)"/>
<ellipse cx="26.5" cy="42.5" rx="28.9283" ry="16.0713" fill="url(#gp)" opacity="0.516825" transform="rotate(12 26.5 42.5)"/>
<ellipse cx="59.2" cy="26" rx="28.08" ry="15.795" fill="url(#gp)" opacity="0.371499"/>
<ellipse cx="59.2" cy="51" rx="17.0527" ry="17.0527" fill="url(#gp)" opacity="0.576404"/>
<ellipse cx="59.2" cy="51" rx="35.1" ry="35.1" fill="url(#gp)" opacity="0.114975"/>
<ellipse cx="82.6" cy="55" rx="11.583" ry="31.59" fill="url(#gp)" opacity="0.30949" transform="rotate(8 82.6 55)"/>
<ellipse cx="75" cy="68" rx="24.57" ry="11.232" fill="url(#gp)" opacity="0.179073" transform="rotate(-35 75 68)"/>
<ellipse cx="65" cy="75" rx="21.06" ry="10.53" fill="url(#gp)" opacity="0.15405" transform="rotate(-20 65 75)"/>
<ellipse cx="20.4" cy="64.3" rx="31.1838" ry="18.0538" fill="url(#gp)" opacity="0.482029" transform="rotate(25 20.4 64.3)"/>
<ellipse cx="13.2" cy="82.5" rx="26.624" ry="14.976" fill="url(#gp)" opacity="0.45924" transform="rotate(8 13.2 82.5)"/>
<ellipse cx="30" cy="86.5" rx="24.57" ry="10.53" fill="url(#gp)" opacity="0.25101" transform="rotate(8 30 86.5)"/>
<ellipse cx="45.9" cy="83.6" rx="17.55" ry="17.55" fill="url(#gp)" opacity="0.319587"/>
<ellipse cx="79" cy="86" rx="21.06" ry="14.04" fill="url(#gp)" opacity="0.0223944"/>
<ellipse cx="86" cy="30" rx="14.04" ry="21.06" fill="url(#gp)" opacity="0.0665254"/>
<ellipse cx="4" cy="4" rx="14.04" ry="10.53" fill="url(#gp)" opacity="0.0483665"/>
<ellipse cx="44" cy="66" rx="7.02" ry="31.59" fill="url(#gp)" opacity="0.0665254"/>
<path d="M17.5 -2.0C17.0 -0.8 15.0 3.2 14.5 5.0C14.0 6.8 14.2 7.2 14.3 9.0C14.4 10.8 14.6 13.7 15.0 16.0C15.4 18.3 15.3 20.9 16.5 23.0C17.7 25.1 19.6 27.3 22.0 28.5C24.4 29.7 28.3 30.0 31.0 30.0C33.7 30.0 36.2 29.2 38.0 28.5C39.8 27.8 41.0 27.1 42.0 25.5C43.0 23.9 41.6 20.4 43.7 18.8C45.8 17.2 51.1 16.3 54.8 16.0C58.5 15.7 62.5 16.0 65.8 17.2C69.1 18.4 71.9 21.4 74.7 23.2C77.5 24.9 80.2 27.0 82.4 27.7C84.6 28.4 86.1 27.9 88.0 27.5C89.9 27.1 93.0 25.4 94.0 25.0 M75.0 51.2C75.0 53.7 74.2 56.4 73.0 58.6C71.7 60.7 69.6 62.7 67.4 63.9C65.2 65.2 62.3 65.9 59.8 65.9C57.3 65.9 54.4 65.2 52.2 63.9C50.0 62.7 47.9 60.7 46.6 58.6C45.4 56.4 44.6 53.7 44.6 51.2C44.6 48.8 45.4 46.0 46.6 43.9C47.9 41.7 50.0 39.7 52.2 38.5C54.4 37.2 57.3 36.5 59.8 36.5C62.3 36.5 65.2 37.2 67.4 38.5C69.6 39.7 71.7 41.7 73.0 43.8C74.2 46.0 75.0 48.8 75.0 51.2Z M-2.0 44.0C-0.3 44.6 4.7 46.2 8.0 47.5C11.3 48.8 14.8 50.4 18.0 51.8C21.2 53.2 24.3 54.6 27.0 56.0C29.7 57.4 32.0 58.6 34.4 60.0C36.8 61.4 39.5 63.3 41.3 64.6C43.1 65.8 44.4 67.0 45.0 67.5 M-2.0 65.0C-0.7 65.5 3.2 66.8 6.0 68.0C8.8 69.2 11.7 70.8 15.0 72.0C18.3 73.2 22.8 74.7 26.0 75.5C29.2 76.3 31.5 77.0 34.0 77.0C36.5 77.0 38.9 76.8 41.0 75.5C43.1 74.2 45.6 70.1 46.5 69.0 M66.0 95.0C66.2 93.7 66.2 89.2 67.0 87.0C67.8 84.8 69.0 82.8 71.0 81.5C73.0 80.2 76.3 79.2 79.0 79.0C81.7 78.8 84.5 79.7 87.0 80.5C89.5 81.3 92.8 83.4 94.0 84.0" fill="none" stroke="#000" stroke-width="9" stroke-opacity="0.22" stroke-linecap="round"/>
<path d="M17.5 -2.0C17.0 -0.8 15.0 3.2 14.5 5.0C14.0 6.8 14.2 7.2 14.3 9.0C14.4 10.8 14.6 13.7 15.0 16.0C15.4 18.3 15.3 20.9 16.5 23.0C17.7 25.1 19.6 27.3 22.0 28.5C24.4 29.7 28.3 30.0 31.0 30.0C33.7 30.0 36.2 29.2 38.0 28.5C39.8 27.8 41.0 27.1 42.0 25.5C43.0 23.9 41.6 20.4 43.7 18.8C45.8 17.2 51.1 16.3 54.8 16.0C58.5 15.7 62.5 16.0 65.8 17.2C69.1 18.4 71.9 21.4 74.7 23.2C77.5 24.9 80.2 27.0 82.4 27.7C84.6 28.4 86.1 27.9 88.0 27.5C89.9 27.1 93.0 25.4 94.0 25.0 M75.0 51.2C75.0 53.7 74.2 56.4 73.0 58.6C71.7 60.7 69.6 62.7 67.4 63.9C65.2 65.2 62.3 65.9 59.8 65.9C57.3 65.9 54.4 65.2 52.2 63.9C50.0 62.7 47.9 60.7 46.6 58.6C45.4 56.4 44.6 53.7 44.6 51.2C44.6 48.8 45.4 46.0 46.6 43.9C47.9 41.7 50.0 39.7 52.2 38.5C54.4 37.2 57.3 36.5 59.8 36.5C62.3 36.5 65.2 37.2 67.4 38.5C69.6 39.7 71.7 41.7 73.0 43.8C74.2 46.0 75.0 48.8 75.0 51.2Z M-2.0 44.0C-0.3 44.6 4.7 46.2 8.0 47.5C11.3 48.8 14.8 50.4 18.0 51.8C21.2 53.2 24.3 54.6 27.0 56.0C29.7 57.4 32.0 58.6 34.4 60.0C36.8 61.4 39.5 63.3 41.3 64.6C43.1 65.8 44.4 67.0 45.0 67.5 M-2.0 65.0C-0.7 65.5 3.2 66.8 6.0 68.0C8.8 69.2 11.7 70.8 15.0 72.0C18.3 73.2 22.8 74.7 26.0 75.5C29.2 76.3 31.5 77.0 34.0 77.0C36.5 77.0 38.9 76.8 41.0 75.5C43.1 74.2 45.6 70.1 46.5 69.0 M66.0 95.0C66.2 93.7 66.2 89.2 67.0 87.0C67.8 84.8 69.0 82.8 71.0 81.5C73.0 80.2 76.3 79.2 79.0 79.0C81.7 78.8 84.5 79.7 87.0 80.5C89.5 81.3 92.8 83.4 94.0 84.0" fill="none" stroke="#000" stroke-width="6" stroke-opacity="0.3" stroke-linecap="round"/>
<path d="M17.5 -2.0C17.0 -0.8 15.0 3.2 14.5 5.0C14.0 6.8 14.2 7.2 14.3 9.0C14.4 10.8 14.6 13.7 15.0 16.0C15.4 18.3 15.3 20.9 16.5 23.0C17.7 25.1 19.6 27.3 22.0 28.5C24.4 29.7 28.3 30.0 31.0 30.0C33.7 30.0 36.2 29.2 38.0 28.5C39.8 27.8 41.0 27.1 42.0 25.5C43.0 23.9 41.6 20.4 43.7 18.8C45.8 17.2 51.1 16.3 54.8 16.0C58.5 15.7 62.5 16.0 65.8 17.2C69.1 18.4 71.9 21.4 74.7 23.2C77.5 24.9 80.2 27.0 82.4 27.7C84.6 28.4 86.1 27.9 88.0 27.5C89.9 27.1 93.0 25.4 94.0 25.0 M75.0 51.2C75.0 53.7 74.2 56.4 73.0 58.6C71.7 60.7 69.6 62.7 67.4 63.9C65.2 65.2 62.3 65.9 59.8 65.9C57.3 65.9 54.4 65.2 52.2 63.9C50.0 62.7 47.9 60.7 46.6 58.6C45.4 56.4 44.6 53.7 44.6 51.2C44.6 48.8 45.4 46.0 46.6 43.9C47.9 41.7 50.0 39.7 52.2 38.5C54.4 37.2 57.3 36.5 59.8 36.5C62.3 36.5 65.2 37.2 67.4 38.5C69.6 39.7 71.7 41.7 73.0 43.8C74.2 46.0 75.0 48.8 75.0 51.2Z M-2.0 44.0C-0.3 44.6 4.7 46.2 8.0 47.5C11.3 48.8 14.8 50.4 18.0 51.8C21.2 53.2 24.3 54.6 27.0 56.0C29.7 57.4 32.0 58.6 34.4 60.0C36.8 61.4 39.5 63.3 41.3 64.6C43.1 65.8 44.4 67.0 45.0 67.5 M-2.0 65.0C-0.7 65.5 3.2 66.8 6.0 68.0C8.8 69.2 11.7 70.8 15.0 72.0C18.3 73.2 22.8 74.7 26.0 75.5C29.2 76.3 31.5 77.0 34.0 77.0C36.5 77.0 38.9 76.8 41.0 75.5C43.1 74.2 45.6 70.1 46.5 69.0 M66.0 95.0C66.2 93.7 66.2 89.2 67.0 87.0C67.8 84.8 69.0 82.8 71.0 81.5C73.0 80.2 76.3 79.2 79.0 79.0C81.7 78.8 84.5 79.7 87.0 80.5C89.5 81.3 92.8 83.4 94.0 84.0" fill="none" stroke="#000" stroke-width="3.6" stroke-opacity="0.45" stroke-linecap="round"/>
<path d="M17.5 -2.0C17.0 -0.8 15.0 3.2 14.5 5.0C14.0 6.8 14.2 7.2 14.3 9.0C14.4 10.8 14.6 13.7 15.0 16.0C15.4 18.3 15.3 20.9 16.5 23.0C17.7 25.1 19.6 27.3 22.0 28.5C24.4 29.7 28.3 30.0 31.0 30.0C33.7 30.0 36.2 29.2 38.0 28.5C39.8 27.8 41.0 27.1 42.0 25.5C43.0 23.9 41.6 20.4 43.7 18.8C45.8 17.2 51.1 16.3 54.8 16.0C58.5 15.7 62.5 16.0 65.8 17.2C69.1 18.4 71.9 21.4 74.7 23.2C77.5 24.9 80.2 27.0 82.4 27.7C84.6 28.4 86.1 27.9 88.0 27.5C89.9 27.1 93.0 25.4 94.0 25.0 M75.0 51.2C75.0 53.7 74.2 56.4 73.0 58.6C71.7 60.7 69.6 62.7 67.4 63.9C65.2 65.2 62.3 65.9 59.8 65.9C57.3 65.9 54.4 65.2 52.2 63.9C50.0 62.7 47.9 60.7 46.6 58.6C45.4 56.4 44.6 53.7 44.6 51.2C44.6 48.8 45.4 46.0 46.6 43.9C47.9 41.7 50.0 39.7 52.2 38.5C54.4 37.2 57.3 36.5 59.8 36.5C62.3 36.5 65.2 37.2 67.4 38.5C69.6 39.7 71.7 41.7 73.0 43.8C74.2 46.0 75.0 48.8 75.0 51.2Z M-2.0 44.0C-0.3 44.6 4.7 46.2 8.0 47.5C11.3 48.8 14.8 50.4 18.0 51.8C21.2 53.2 24.3 54.6 27.0 56.0C29.7 57.4 32.0 58.6 34.4 60.0C36.8 61.4 39.5 63.3 41.3 64.6C43.1 65.8 44.4 67.0 45.0 67.5 M-2.0 65.0C-0.7 65.5 3.2 66.8 6.0 68.0C8.8 69.2 11.7 70.8 15.0 72.0C18.3 73.2 22.8 74.7 26.0 75.5C29.2 76.3 31.5 77.0 34.0 77.0C36.5 77.0 38.9 76.8 41.0 75.5C43.1 74.2 45.6 70.1 46.5 69.0 M66.0 95.0C66.2 93.7 66.2 89.2 67.0 87.0C67.8 84.8 69.0 82.8 71.0 81.5C73.0 80.2 76.3 79.2 79.0 79.0C81.7 78.8 84.5 79.7 87.0 80.5C89.5 81.3 92.8 83.4 94.0 84.0" fill="none" stroke="#000" stroke-width="1.8" stroke-opacity="0.9" stroke-linecap="round"/>
<g transform="translate(120 0)"><rect x="-10" y="-10" width="112.5" height="113.5" fill="#fff"/>
<path d="M17.5 -2.0C17.0 -0.8 15.0 3.2 14.5 5.0C14.0 6.8 14.2 7.2 14.3 9.0C14.4 10.8 14.6 13.7 15.0 16.0C15.4 18.3 15.3 20.9 16.5 23.0C17.7 25.1 19.6 27.3 22.0 28.5C24.4 29.7 28.3 30.0 31.0 30.0C33.7 30.0 36.2 29.2 38.0 28.5C39.8 27.8 41.0 27.1 42.0 25.5C43.0 23.9 41.6 20.4 43.7 18.8C45.8 17.2 51.1 16.3 54.8 16.0C58.5 15.7 62.5 16.0 65.8 17.2C69.1 18.4 71.9 21.4 74.7 23.2C77.5 24.9 80.2 27.0 82.4 27.7C84.6 28.4 86.1 27.9 88.0 27.5C89.9 27.1 93.0 25.4 94.0 25.0 M75.0 51.2C75.0 53.7 74.2 56.4 73.0 58.6C71.7 60.7 69.6 62.7 67.4 63.9C65.2 65.2 62.3 65.9 59.8 65.9C57.3 65.9 54.4 65.2 52.2 63.9C50.0 62.7 47.9 60.7 46.6 58.6C45.4 56.4 44.6 53.7 44.6 51.2C44.6 48.8 45.4 46.0 46.6 43.9C47.9 41.7 50.0 39.7 52.2 38.5C54.4 37.2 57.3 36.5 59.8 36.5C62.3 36.5 65.2 37.2 67.4 38.5C69.6 39.7 71.7 41.7 73.0 43.8C74.2 46.0 75.0 48.8 75.0 51.2Z M-2.0 44.0C-0.3 44.6 4.7 46.2 8.0 47.5C11.3 48.8 14.8 50.4 18.0 51.8C21.2 53.2 24.3 54.6 27.0 56.0C29.7 57.4 32.0 58.6 34.4 60.0C36.8 61.4 39.5 63.3 41.3 64.6C43.1 65.8 44.4 67.0 45.0 67.5 M-2.0 65.0C-0.7 65.5 3.2 66.8 6.0 68.0C8.8 69.2 11.7 70.8 15.0 72.0C18.3 73.2 22.8 74.7 26.0 75.5C29.2 76.3 31.5 77.0 34.0 77.0C36.5 77.0 38.9 76.8 41.0 75.5C43.1 74.2 45.6 70.1 46.5 69.0 M66.0 95.0C66.2 93.7 66.2 89.2 67.0 87.0C67.8 84.8 69.0 82.8 71.0 81.5C73.0 80.2 76.3 79.2 79.0 79.0C81.7 78.8 84.5 79.7 87.0 80.5C89.5 81.3 92.8 83.4 94.0 84.0" fill="none" stroke="#fff" stroke-width="9" stroke-opacity="0.22" stroke-linecap="round"/>
<path d="M17.5 -2.0C17.0 -0.8 15.0 3.2 14.5 5.0C14.0 6.8 14.2 7.2 14.3 9.0C14.4 10.8 14.6 13.7 15.0 16.0C15.4 18.3 15.3 20.9 16.5 23.0C17.7 25.1 19.6 27.3 22.0 28.5C24.4 29.7 28.3 30.0 31.0 30.0C33.7 30.0 36.2 29.2 38.0 28.5C39.8 27.8 41.0 27.1 42.0 25.5C43.0 23.9 41.6 20.4 43.7 18.8C45.8 17.2 51.1 16.3 54.8 16.0C58.5 15.7 62.5 16.0 65.8 17.2C69.1 18.4 71.9 21.4 74.7 23.2C77.5 24.9 80.2 27.0 82.4 27.7C84.6 28.4 86.1 27.9 88.0 27.5C89.9 27.1 93.0 25.4 94.0 25.0 M75.0 51.2C75.0 53.7 74.2 56.4 73.0 58.6C71.7 60.7 69.6 62.7 67.4 63.9C65.2 65.2 62.3 65.9 59.8 65.9C57.3 65.9 54.4 65.2 52.2 63.9C50.0 62.7 47.9 60.7 46.6 58.6C45.4 56.4 44.6 53.7 44.6 51.2C44.6 48.8 45.4 46.0 46.6 43.9C47.9 41.7 50.0 39.7 52.2 38.5C54.4 37.2 57.3 36.5 59.8 36.5C62.3 36.5 65.2 37.2 67.4 38.5C69.6 39.7 71.7 41.7 73.0 43.8C74.2 46.0 75.0 48.8 75.0 51.2Z M-2.0 44.0C-0.3 44.6 4.7 46.2 8.0 47.5C11.3 48.8 14.8 50.4 18.0 51.8C21.2 53.2 24.3 54.6 27.0 56.0C29.7 57.4 32.0 58.6 34.4 60.0C36.8 61.4 39.5 63.3 41.3 64.6C43.1 65.8 44.4 67.0 45.0 67.5 M-2.0 65.0C-0.7 65.5 3.2 66.8 6.0 68.0C8.8 69.2 11.7 70.8 15.0 72.0C18.3 73.2 22.8 74.7 26.0 75.5C29.2 76.3 31.5 77.0 34.0 77.0C36.5 77.0 38.9 76.8 41.0 75.5C43.1 74.2 45.6 70.1 46.5 69.0 M66.0 95.0C66.2 93.7 66.2 89.2 67.0 87.0C67.8 84.8 69.0 82.8 71.0 81.5C73.0 80.2 76.3 79.2 79.0 79.0C81.7 78.8 84.5 79.7 87.0 80.5C89.5 81.3 92.8 83.4 94.0 84.0" fill="none" stroke="#fff" stroke-width="6" stroke-opacity="0.3" stroke-linecap="round"/>
<path d="M17.5 -2.0C17.0 -0.8 15.0 3.2 14.5 5.0C14.0 6.8 14.2 7.2 14.3 9.0C14.4 10.8 14.6 13.7 15.0 16.0C15.4 18.3 15.3 20.9 16.5 23.0C17.7 25.1 19.6 27.3 22.0 28.5C24.4 29.7 28.3 30.0 31.0 30.0C33.7 30.0 36.2 29.2 38.0 28.5C39.8 27.8 41.0 27.1 42.0 25.5C43.0 23.9 41.6 20.4 43.7 18.8C45.8 17.2 51.1 16.3 54.8 16.0C58.5 15.7 62.5 16.0 65.8 17.2C69.1 18.4 71.9 21.4 74.7 23.2C77.5 24.9 80.2 27.0 82.4 27.7C84.6 28.4 86.1 27.9 88.0 27.5C89.9 27.1 93.0 25.4 94.0 25.0 M75.0 51.2C75.0 53.7 74.2 56.4 73.0 58.6C71.7 60.7 69.6 62.7 67.4 63.9C65.2 65.2 62.3 65.9 59.8 65.9C57.3 65.9 54.4 65.2 52.2 63.9C50.0 62.7 47.9 60.7 46.6 58.6C45.4 56.4 44.6 53.7 44.6 51.2C44.6 48.8 45.4 46.0 46.6 43.9C47.9 41.7 50.0 39.7 52.2 38.5C54.4 37.2 57.3 36.5 59.8 36.5C62.3 36.5 65.2 37.2 67.4 38.5C69.6 39.7 71.7 41.7 73.0 43.8C74.2 46.0 75.0 48.8 75.0 51.2Z M-2.0 44.0C-0.3 44.6 4.7 46.2 8.0 47.5C11.3 48.8 14.8 50.4 18.0 51.8C21.2 53.2 24.3 54.6 27.0 56.0C29.7 57.4 32.0 58.6 34.4 60.0C36.8 61.4 39.5 63.3 41.3 64.6C43.1 65.8 44.4 67.0 45.0 67.5 M-2.0 65.0C-0.7 65.5 3.2 66.8 6.0 68.0C8.8 69.2 11.7 70.8 15.0 72.0C18.3 73.2 22.8 74.7 26.0 75.5C29.2 76.3 31.5 77.0 34.0 77.0C36.5 77.0 38.9 76.8 41.0 75.5C43.1 74.2 45.6 70.1 46.5 69.0 M66.0 95.0C66.2 93.7 66.2 89.2 67.0 87.0C67.8 84.8 69.0 82.8 71.0 81.5C73.0 80.2 76.3 79.2 79.0 79.0C81.7 78.8 84.5 79.7 87.0 80.5C89.5 81.3 92.8 83.4 94.0 84.0" fill="none" stroke="#fff" stroke-width="3.6" stroke-opacity="0.45" stroke-linecap="round"/>
<path d="M17.5 -2.0C17.0 -0.8 15.0 3.2 14.5 5.0C14.0 6.8 14.2 7.2 14.3 9.0C14.4 10.8 14.6 13.7 15.0 16.0C15.4 18.3 15.3 20.9 16.5 23.0C17.7 25.1 19.6 27.3 22.0 28.5C24.4 29.7 28.3 30.0 31.0 30.0C33.7 30.0 36.2 29.2 38.0 28.5C39.8 27.8 41.0 27.1 42.0 25.5C43.0 23.9 41.6 20.4 43.7 18.8C45.8 17.2 51.1 16.3 54.8 16.0C58.5 15.7 62.5 16.0 65.8 17.2C69.1 18.4 71.9 21.4 74.7 23.2C77.5 24.9 80.2 27.0 82.4 27.7C84.6 28.4 86.1 27.9 88.0 27.5C89.9 27.1 93.0 25.4 94.0 25.0 M75.0 51.2C75.0 53.7 74.2 56.4 73.0 58.6C71.7 60.7 69.6 62.7 67.4 63.9C65.2 65.2 62.3 65.9 59.8 65.9C57.3 65.9 54.4 65.2 52.2 63.9C50.0 62.7 47.9 60.7 46.6 58.6C45.4 56.4 44.6 53.7 44.6 51.2C44.6 48.8 45.4 46.0 46.6 43.9C47.9 41.7 50.0 39.7 52.2 38.5C54.4 37.2 57.3 36.5 59.8 36.5C62.3 36.5 65.2 37.2 67.4 38.5C69.6 39.7 71.7 41.7 73.0 43.8C74.2 46.0 75.0 48.8 75.0 51.2Z M-2.0 44.0C-0.3 44.6 4.7 46.2 8.0 47.5C11.3 48.8 14.8 50.4 18.0 51.8C21.2 53.2 24.3 54.6 27.0 56.0C29.7 57.4 32.0 58.6 34.4 60.0C36.8 61.4 39.5 63.3 41.3 64.6C43.1 65.8 44.4 67.0 45.0 67.5 M-2.0 65.0C-0.7 65.5 3.2 66.8 6.0 68.0C8.8 69.2 11.7 70.8 15.0 72.0C18.3 73.2 22.8 74.7 26.0 75.5C29.2 76.3 31.5 77.0 34.0 77.0C36.5 77.0 38.9 76.8 41.0 75.5C43.1 74.2 45.6 70.1 46.5 69.0 M66.0 95.0C66.2 93.7 66.2 89.2 67.0 87.0C67.8 84.8 69.0 82.8 71.0 81.5C73.0 80.2 76.3 79.2 79.0 79.0C81.7 78.8 84.5 79.7 87.0 80.5C89.5 81.3 92.8 83.4 94.0 84.0" fill="none" stroke="#fff" stroke-width="1.8" stroke-opacity="0.9" stroke-linecap="round"/>
</g></g></g>
<rect x="205.3" y="317.3" width="92.5" height="93.5" fill="none" stroke="#2a2a2a" stroke-width="1.3"/>
<path d="M205.3 381.3h3" stroke="#2a2a2a" stroke-width="1"/>
<text x="203.3" y="386.1" text-anchor="end" font-size="14" letter-spacing="0" >1</text>
<path d="M205.3 351.4h3" stroke="#2a2a2a" stroke-width="1"/>
<text x="203.3" y="356.2" text-anchor="end" font-size="14" letter-spacing="0" >2</text>
<path d="M205.3 321.5h3" stroke="#2a2a2a" stroke-width="1"/>
<text x="203.3" y="326.3" text-anchor="end" font-size="14" letter-spacing="0" >3</text>
<path d="M264.187 410.8v-3.5" stroke="#2a2a2a" stroke-width="1"/>
<text x="264.187" y="423.8" text-anchor="middle" font-size="14" letter-spacing="0" >2</text>
<text x="199.8" y="423.8" text-anchor="middle" font-size="14" letter-spacing="0" >0</text>
<text x="250.5" y="433.1" text-anchor="middle" font-size="14.5" letter-spacing="0" ><tspan font-style="italic">x</tspan></text>
<text transform="translate(190.9 363.8) rotate(-90)" text-anchor="middle" font-size="14.5" font-style="italic">y</text>
<g transform="translate(371.6 317.3)" clip-path="url(#cl)"><g filter="url(#fe)">
<rect x="-10" y="-10" width="112.5" height="113.5" fill="#000"/>
<ellipse cx="77.6" cy="10.8" rx="19.5" ry="14.56" fill="url(#gp)" opacity="1" transform="rotate(10 77.6 10.8)"/>
<ellipse cx="70" cy="8.6" rx="16.965" ry="10.179" fill="url(#gp)" opacity="0.727038"/>
<ellipse cx="81.5" cy="16.5" rx="11.8755" ry="12.7238" fill="url(#gp)" opacity="0.727038"/>
<ellipse cx="59" cy="9" rx="38.61" ry="11.232" fill="url(#gp)" opacity="0.179073" transform="rotate(-3 59 9)"/>
<ellipse cx="44" cy="11" rx="21.06" ry="12.285" fill="url(#gp)" opacity="0.232352" transform="rotate(-25 44 11)"/>
<ellipse cx="29.7" cy="18.5" rx="24.57" ry="17.55" fill="url(#gp)" opacity="0.371499" transform="rotate(-15 29.7 18.5)"/>
<ellipse cx="7.7" cy="18" rx="14.742" ry="35.1" fill="url(#gp)" opacity="0.319587"/>
<ellipse cx="9.5" cy="34" rx="15.795" ry="17.55" fill="url(#gp)" opacity="0.179073" transform="rotate(-30 9.5 34)"/>
<ellipse cx="27" cy="41.5" rx="30.55" ry="16.8025" fill="url(#gp)" opacity="0.600774" transform="rotate(8 27 41.5)"/>
<ellipse cx="57" cy="25" rx="24.57" ry="12.285" fill="url(#gp)" opacity="0.179073"/>
<ellipse cx="59.2" cy="50.6" rx="17.8035" ry="17.8035" fill="url(#gp)" opacity="0.505146"/>
<ellipse cx="59.2" cy="50.6" rx="35.1" ry="35.1" fill="url(#gp)" opacity="0.114975"/>
<ellipse cx="83" cy="53" rx="12.285" ry="31.59" fill="url(#gp)" opacity="0.270094" transform="rotate(8 83 53)"/>
<ellipse cx="76" cy="67" rx="24.57" ry="12.285" fill="url(#gp)" opacity="0.179073" transform="rotate(-40 76 67)"/>
<ellipse cx="65" cy="76" rx="24.57" ry="12.285" fill="url(#gp)" opacity="0.179073" transform="rotate(-20 65 76)"/>
<ellipse cx="20.4" cy="63.6" rx="33.345" ry="17.55" fill="url(#gp)" opacity="0.350453" transform="rotate(22 20.4 63.6)"/>
<ellipse cx="13.5" cy="83" rx="28.08" ry="15.795" fill="url(#gp)" opacity="0.30949" transform="rotate(8 13.5 83)"/>
<ellipse cx="30" cy="85.5" rx="28.08" ry="12.285" fill="url(#gp)" opacity="0.214133" transform="rotate(5 30 85.5)"/>
<ellipse cx="45" cy="84" rx="24.57" ry="15.795" fill="url(#gp)" opacity="0.25101"/>
<ellipse cx="80" cy="86" rx="21.06" ry="12.285" fill="url(#gp)" opacity="0.0372759"/>
<ellipse cx="86" cy="30" rx="14.04" ry="21.06" fill="url(#gp)" opacity="0.0665254"/>
<ellipse cx="4" cy="4" rx="14.04" ry="10.53" fill="url(#gp)" opacity="0.0483665"/>
<ellipse cx="44" cy="66" rx="7.02" ry="31.59" fill="url(#gp)" opacity="0.0665254"/>
<path d="M18.4 -2.0C18.4 -0.2 18.5 5.2 18.4 8.8C18.3 12.4 17.2 16.8 17.9 19.8C18.6 22.8 20.1 25.3 22.8 27.0C25.5 28.7 30.9 29.7 33.9 29.8C36.9 29.9 39.4 28.5 41.0 27.5C42.6 26.5 41.1 25.0 43.4 23.7C45.6 22.4 50.8 20.2 54.5 19.8C58.2 19.4 61.8 19.8 65.5 21.5C69.2 23.2 72.9 28.2 76.6 29.8C80.3 31.4 84.7 31.2 87.6 30.9C90.5 30.6 92.9 28.5 94.0 28.0 M75.0 51.2C75.0 53.7 74.2 56.4 73.0 58.6C71.7 60.7 69.6 62.7 67.4 63.9C65.2 65.2 62.3 65.9 59.8 65.9C57.3 65.9 54.4 65.2 52.2 63.9C50.0 62.7 47.9 60.7 46.6 58.6C45.4 56.4 44.6 53.7 44.6 51.2C44.6 48.8 45.4 46.0 46.6 43.9C47.9 41.7 50.0 39.7 52.2 38.5C54.4 37.2 57.3 36.5 59.8 36.5C62.3 36.5 65.2 37.2 67.4 38.5C69.6 39.7 71.7 41.7 73.0 43.8C74.2 46.0 75.0 48.8 75.0 51.2Z M-2.0 44.5C-0.3 45.1 4.7 46.7 8.0 48.0C11.3 49.3 14.8 50.9 18.0 52.3C21.2 53.7 24.3 55.1 27.0 56.5C29.7 57.9 32.0 59.1 34.4 60.5C36.8 61.9 39.5 63.8 41.3 65.0C43.1 66.2 44.4 67.1 45.0 67.5 M-2.0 66.0C-0.7 66.5 3.2 67.8 6.0 69.0C8.8 70.2 11.7 71.8 15.0 73.0C18.3 74.2 22.8 75.3 26.0 76.0C29.2 76.7 31.5 77.1 34.0 77.0C36.5 76.9 38.9 76.8 41.0 75.5C43.1 74.2 45.6 70.1 46.5 69.0 M68.0 95.0C68.2 93.8 68.2 89.9 69.0 88.0C69.8 86.1 71.2 84.6 73.0 83.5C74.8 82.4 77.7 81.6 80.0 81.5C82.3 81.4 84.7 82.2 87.0 83.0C89.3 83.8 92.8 85.5 94.0 86.0" fill="none" stroke="#000" stroke-width="9" stroke-opacity="0.22" stroke-linecap="round"/>
<path d="M18.4 -2.0C18.4 -0.2 18.5 5.2 18.4 8.8C18.3 12.4 17.2 16.8 17.9 19.8C18.6 22.8 20.1 25.3 22.8 27.0C25.5 28.7 30.9 29.7 33.9 29.8C36.9 29.9 39.4 28.5 41.0 27.5C42.6 26.5 41.1 25.0 43.4 23.7C45.6 22.4 50.8 20.2 54.5 19.8C58.2 19.4 61.8 19.8 65.5 21.5C69.2 23.2 72.9 28.2 76.6 29.8C80.3 31.4 84.7 31.2 87.6 30.9C90.5 30.6 92.9 28.5 94.0 28.0 M75.0 51.2C75.0 53.7 74.2 56.4 73.0 58.6C71.7 60.7 69.6 62.7 67.4 63.9C65.2 65.2 62.3 65.9 59.8 65.9C57.3 65.9 54.4 65.2 52.2 63.9C50.0 62.7 47.9 60.7 46.6 58.6C45.4 56.4 44.6 53.7 44.6 51.2C44.6 48.8 45.4 46.0 46.6 43.9C47.9 41.7 50.0 39.7 52.2 38.5C54.4 37.2 57.3 36.5 59.8 36.5C62.3 36.5 65.2 37.2 67.4 38.5C69.6 39.7 71.7 41.7 73.0 43.8C74.2 46.0 75.0 48.8 75.0 51.2Z M-2.0 44.5C-0.3 45.1 4.7 46.7 8.0 48.0C11.3 49.3 14.8 50.9 18.0 52.3C21.2 53.7 24.3 55.1 27.0 56.5C29.7 57.9 32.0 59.1 34.4 60.5C36.8 61.9 39.5 63.8 41.3 65.0C43.1 66.2 44.4 67.1 45.0 67.5 M-2.0 66.0C-0.7 66.5 3.2 67.8 6.0 69.0C8.8 70.2 11.7 71.8 15.0 73.0C18.3 74.2 22.8 75.3 26.0 76.0C29.2 76.7 31.5 77.1 34.0 77.0C36.5 76.9 38.9 76.8 41.0 75.5C43.1 74.2 45.6 70.1 46.5 69.0 M68.0 95.0C68.2 93.8 68.2 89.9 69.0 88.0C69.8 86.1 71.2 84.6 73.0 83.5C74.8 82.4 77.7 81.6 80.0 81.5C82.3 81.4 84.7 82.2 87.0 83.0C89.3 83.8 92.8 85.5 94.0 86.0" fill="none" stroke="#000" stroke-width="6" stroke-opacity="0.3" stroke-linecap="round"/>
<path d="M18.4 -2.0C18.4 -0.2 18.5 5.2 18.4 8.8C18.3 12.4 17.2 16.8 17.9 19.8C18.6 22.8 20.1 25.3 22.8 27.0C25.5 28.7 30.9 29.7 33.9 29.8C36.9 29.9 39.4 28.5 41.0 27.5C42.6 26.5 41.1 25.0 43.4 23.7C45.6 22.4 50.8 20.2 54.5 19.8C58.2 19.4 61.8 19.8 65.5 21.5C69.2 23.2 72.9 28.2 76.6 29.8C80.3 31.4 84.7 31.2 87.6 30.9C90.5 30.6 92.9 28.5 94.0 28.0 M75.0 51.2C75.0 53.7 74.2 56.4 73.0 58.6C71.7 60.7 69.6 62.7 67.4 63.9C65.2 65.2 62.3 65.9 59.8 65.9C57.3 65.9 54.4 65.2 52.2 63.9C50.0 62.7 47.9 60.7 46.6 58.6C45.4 56.4 44.6 53.7 44.6 51.2C44.6 48.8 45.4 46.0 46.6 43.9C47.9 41.7 50.0 39.7 52.2 38.5C54.4 37.2 57.3 36.5 59.8 36.5C62.3 36.5 65.2 37.2 67.4 38.5C69.6 39.7 71.7 41.7 73.0 43.8C74.2 46.0 75.0 48.8 75.0 51.2Z M-2.0 44.5C-0.3 45.1 4.7 46.7 8.0 48.0C11.3 49.3 14.8 50.9 18.0 52.3C21.2 53.7 24.3 55.1 27.0 56.5C29.7 57.9 32.0 59.1 34.4 60.5C36.8 61.9 39.5 63.8 41.3 65.0C43.1 66.2 44.4 67.1 45.0 67.5 M-2.0 66.0C-0.7 66.5 3.2 67.8 6.0 69.0C8.8 70.2 11.7 71.8 15.0 73.0C18.3 74.2 22.8 75.3 26.0 76.0C29.2 76.7 31.5 77.1 34.0 77.0C36.5 76.9 38.9 76.8 41.0 75.5C43.1 74.2 45.6 70.1 46.5 69.0 M68.0 95.0C68.2 93.8 68.2 89.9 69.0 88.0C69.8 86.1 71.2 84.6 73.0 83.5C74.8 82.4 77.7 81.6 80.0 81.5C82.3 81.4 84.7 82.2 87.0 83.0C89.3 83.8 92.8 85.5 94.0 86.0" fill="none" stroke="#000" stroke-width="3.6" stroke-opacity="0.45" stroke-linecap="round"/>
<path d="M18.4 -2.0C18.4 -0.2 18.5 5.2 18.4 8.8C18.3 12.4 17.2 16.8 17.9 19.8C18.6 22.8 20.1 25.3 22.8 27.0C25.5 28.7 30.9 29.7 33.9 29.8C36.9 29.9 39.4 28.5 41.0 27.5C42.6 26.5 41.1 25.0 43.4 23.7C45.6 22.4 50.8 20.2 54.5 19.8C58.2 19.4 61.8 19.8 65.5 21.5C69.2 23.2 72.9 28.2 76.6 29.8C80.3 31.4 84.7 31.2 87.6 30.9C90.5 30.6 92.9 28.5 94.0 28.0 M75.0 51.2C75.0 53.7 74.2 56.4 73.0 58.6C71.7 60.7 69.6 62.7 67.4 63.9C65.2 65.2 62.3 65.9 59.8 65.9C57.3 65.9 54.4 65.2 52.2 63.9C50.0 62.7 47.9 60.7 46.6 58.6C45.4 56.4 44.6 53.7 44.6 51.2C44.6 48.8 45.4 46.0 46.6 43.9C47.9 41.7 50.0 39.7 52.2 38.5C54.4 37.2 57.3 36.5 59.8 36.5C62.3 36.5 65.2 37.2 67.4 38.5C69.6 39.7 71.7 41.7 73.0 43.8C74.2 46.0 75.0 48.8 75.0 51.2Z M-2.0 44.5C-0.3 45.1 4.7 46.7 8.0 48.0C11.3 49.3 14.8 50.9 18.0 52.3C21.2 53.7 24.3 55.1 27.0 56.5C29.7 57.9 32.0 59.1 34.4 60.5C36.8 61.9 39.5 63.8 41.3 65.0C43.1 66.2 44.4 67.1 45.0 67.5 M-2.0 66.0C-0.7 66.5 3.2 67.8 6.0 69.0C8.8 70.2 11.7 71.8 15.0 73.0C18.3 74.2 22.8 75.3 26.0 76.0C29.2 76.7 31.5 77.1 34.0 77.0C36.5 76.9 38.9 76.8 41.0 75.5C43.1 74.2 45.6 70.1 46.5 69.0 M68.0 95.0C68.2 93.8 68.2 89.9 69.0 88.0C69.8 86.1 71.2 84.6 73.0 83.5C74.8 82.4 77.7 81.6 80.0 81.5C82.3 81.4 84.7 82.2 87.0 83.0C89.3 83.8 92.8 85.5 94.0 86.0" fill="none" stroke="#000" stroke-width="1.8" stroke-opacity="0.9" stroke-linecap="round"/>
<g transform="translate(120 0)"><rect x="-10" y="-10" width="112.5" height="113.5" fill="#fff"/>
<path d="M18.4 -2.0C18.4 -0.2 18.5 5.2 18.4 8.8C18.3 12.4 17.2 16.8 17.9 19.8C18.6 22.8 20.1 25.3 22.8 27.0C25.5 28.7 30.9 29.7 33.9 29.8C36.9 29.9 39.4 28.5 41.0 27.5C42.6 26.5 41.1 25.0 43.4 23.7C45.6 22.4 50.8 20.2 54.5 19.8C58.2 19.4 61.8 19.8 65.5 21.5C69.2 23.2 72.9 28.2 76.6 29.8C80.3 31.4 84.7 31.2 87.6 30.9C90.5 30.6 92.9 28.5 94.0 28.0 M75.0 51.2C75.0 53.7 74.2 56.4 73.0 58.6C71.7 60.7 69.6 62.7 67.4 63.9C65.2 65.2 62.3 65.9 59.8 65.9C57.3 65.9 54.4 65.2 52.2 63.9C50.0 62.7 47.9 60.7 46.6 58.6C45.4 56.4 44.6 53.7 44.6 51.2C44.6 48.8 45.4 46.0 46.6 43.9C47.9 41.7 50.0 39.7 52.2 38.5C54.4 37.2 57.3 36.5 59.8 36.5C62.3 36.5 65.2 37.2 67.4 38.5C69.6 39.7 71.7 41.7 73.0 43.8C74.2 46.0 75.0 48.8 75.0 51.2Z M-2.0 44.5C-0.3 45.1 4.7 46.7 8.0 48.0C11.3 49.3 14.8 50.9 18.0 52.3C21.2 53.7 24.3 55.1 27.0 56.5C29.7 57.9 32.0 59.1 34.4 60.5C36.8 61.9 39.5 63.8 41.3 65.0C43.1 66.2 44.4 67.1 45.0 67.5 M-2.0 66.0C-0.7 66.5 3.2 67.8 6.0 69.0C8.8 70.2 11.7 71.8 15.0 73.0C18.3 74.2 22.8 75.3 26.0 76.0C29.2 76.7 31.5 77.1 34.0 77.0C36.5 76.9 38.9 76.8 41.0 75.5C43.1 74.2 45.6 70.1 46.5 69.0 M68.0 95.0C68.2 93.8 68.2 89.9 69.0 88.0C69.8 86.1 71.2 84.6 73.0 83.5C74.8 82.4 77.7 81.6 80.0 81.5C82.3 81.4 84.7 82.2 87.0 83.0C89.3 83.8 92.8 85.5 94.0 86.0" fill="none" stroke="#fff" stroke-width="9" stroke-opacity="0.22" stroke-linecap="round"/>
<path d="M18.4 -2.0C18.4 -0.2 18.5 5.2 18.4 8.8C18.3 12.4 17.2 16.8 17.9 19.8C18.6 22.8 20.1 25.3 22.8 27.0C25.5 28.7 30.9 29.7 33.9 29.8C36.9 29.9 39.4 28.5 41.0 27.5C42.6 26.5 41.1 25.0 43.4 23.7C45.6 22.4 50.8 20.2 54.5 19.8C58.2 19.4 61.8 19.8 65.5 21.5C69.2 23.2 72.9 28.2 76.6 29.8C80.3 31.4 84.7 31.2 87.6 30.9C90.5 30.6 92.9 28.5 94.0 28.0 M75.0 51.2C75.0 53.7 74.2 56.4 73.0 58.6C71.7 60.7 69.6 62.7 67.4 63.9C65.2 65.2 62.3 65.9 59.8 65.9C57.3 65.9 54.4 65.2 52.2 63.9C50.0 62.7 47.9 60.7 46.6 58.6C45.4 56.4 44.6 53.7 44.6 51.2C44.6 48.8 45.4 46.0 46.6 43.9C47.9 41.7 50.0 39.7 52.2 38.5C54.4 37.2 57.3 36.5 59.8 36.5C62.3 36.5 65.2 37.2 67.4 38.5C69.6 39.7 71.7 41.7 73.0 43.8C74.2 46.0 75.0 48.8 75.0 51.2Z M-2.0 44.5C-0.3 45.1 4.7 46.7 8.0 48.0C11.3 49.3 14.8 50.9 18.0 52.3C21.2 53.7 24.3 55.1 27.0 56.5C29.7 57.9 32.0 59.1 34.4 60.5C36.8 61.9 39.5 63.8 41.3 65.0C43.1 66.2 44.4 67.1 45.0 67.5 M-2.0 66.0C-0.7 66.5 3.2 67.8 6.0 69.0C8.8 70.2 11.7 71.8 15.0 73.0C18.3 74.2 22.8 75.3 26.0 76.0C29.2 76.7 31.5 77.1 34.0 77.0C36.5 76.9 38.9 76.8 41.0 75.5C43.1 74.2 45.6 70.1 46.5 69.0 M68.0 95.0C68.2 93.8 68.2 89.9 69.0 88.0C69.8 86.1 71.2 84.6 73.0 83.5C74.8 82.4 77.7 81.6 80.0 81.5C82.3 81.4 84.7 82.2 87.0 83.0C89.3 83.8 92.8 85.5 94.0 86.0" fill="none" stroke="#fff" stroke-width="6" stroke-opacity="0.3" stroke-linecap="round"/>
<path d="M18.4 -2.0C18.4 -0.2 18.5 5.2 18.4 8.8C18.3 12.4 17.2 16.8 17.9 19.8C18.6 22.8 20.1 25.3 22.8 27.0C25.5 28.7 30.9 29.7 33.9 29.8C36.9 29.9 39.4 28.5 41.0 27.5C42.6 26.5 41.1 25.0 43.4 23.7C45.6 22.4 50.8 20.2 54.5 19.8C58.2 19.4 61.8 19.8 65.5 21.5C69.2 23.2 72.9 28.2 76.6 29.8C80.3 31.4 84.7 31.2 87.6 30.9C90.5 30.6 92.9 28.5 94.0 28.0 M75.0 51.2C75.0 53.7 74.2 56.4 73.0 58.6C71.7 60.7 69.6 62.7 67.4 63.9C65.2 65.2 62.3 65.9 59.8 65.9C57.3 65.9 54.4 65.2 52.2 63.9C50.0 62.7 47.9 60.7 46.6 58.6C45.4 56.4 44.6 53.7 44.6 51.2C44.6 48.8 45.4 46.0 46.6 43.9C47.9 41.7 50.0 39.7 52.2 38.5C54.4 37.2 57.3 36.5 59.8 36.5C62.3 36.5 65.2 37.2 67.4 38.5C69.6 39.7 71.7 41.7 73.0 43.8C74.2 46.0 75.0 48.8 75.0 51.2Z M-2.0 44.5C-0.3 45.1 4.7 46.7 8.0 48.0C11.3 49.3 14.8 50.9 18.0 52.3C21.2 53.7 24.3 55.1 27.0 56.5C29.7 57.9 32.0 59.1 34.4 60.5C36.8 61.9 39.5 63.8 41.3 65.0C43.1 66.2 44.4 67.1 45.0 67.5 M-2.0 66.0C-0.7 66.5 3.2 67.8 6.0 69.0C8.8 70.2 11.7 71.8 15.0 73.0C18.3 74.2 22.8 75.3 26.0 76.0C29.2 76.7 31.5 77.1 34.0 77.0C36.5 76.9 38.9 76.8 41.0 75.5C43.1 74.2 45.6 70.1 46.5 69.0 M68.0 95.0C68.2 93.8 68.2 89.9 69.0 88.0C69.8 86.1 71.2 84.6 73.0 83.5C74.8 82.4 77.7 81.6 80.0 81.5C82.3 81.4 84.7 82.2 87.0 83.0C89.3 83.8 92.8 85.5 94.0 86.0" fill="none" stroke="#fff" stroke-width="3.6" stroke-opacity="0.45" stroke-linecap="round"/>
<path d="M18.4 -2.0C18.4 -0.2 18.5 5.2 18.4 8.8C18.3 12.4 17.2 16.8 17.9 19.8C18.6 22.8 20.1 25.3 22.8 27.0C25.5 28.7 30.9 29.7 33.9 29.8C36.9 29.9 39.4 28.5 41.0 27.5C42.6 26.5 41.1 25.0 43.4 23.7C45.6 22.4 50.8 20.2 54.5 19.8C58.2 19.4 61.8 19.8 65.5 21.5C69.2 23.2 72.9 28.2 76.6 29.8C80.3 31.4 84.7 31.2 87.6 30.9C90.5 30.6 92.9 28.5 94.0 28.0 M75.0 51.2C75.0 53.7 74.2 56.4 73.0 58.6C71.7 60.7 69.6 62.7 67.4 63.9C65.2 65.2 62.3 65.9 59.8 65.9C57.3 65.9 54.4 65.2 52.2 63.9C50.0 62.7 47.9 60.7 46.6 58.6C45.4 56.4 44.6 53.7 44.6 51.2C44.6 48.8 45.4 46.0 46.6 43.9C47.9 41.7 50.0 39.7 52.2 38.5C54.4 37.2 57.3 36.5 59.8 36.5C62.3 36.5 65.2 37.2 67.4 38.5C69.6 39.7 71.7 41.7 73.0 43.8C74.2 46.0 75.0 48.8 75.0 51.2Z M-2.0 44.5C-0.3 45.1 4.7 46.7 8.0 48.0C11.3 49.3 14.8 50.9 18.0 52.3C21.2 53.7 24.3 55.1 27.0 56.5C29.7 57.9 32.0 59.1 34.4 60.5C36.8 61.9 39.5 63.8 41.3 65.0C43.1 66.2 44.4 67.1 45.0 67.5 M-2.0 66.0C-0.7 66.5 3.2 67.8 6.0 69.0C8.8 70.2 11.7 71.8 15.0 73.0C18.3 74.2 22.8 75.3 26.0 76.0C29.2 76.7 31.5 77.1 34.0 77.0C36.5 76.9 38.9 76.8 41.0 75.5C43.1 74.2 45.6 70.1 46.5 69.0 M68.0 95.0C68.2 93.8 68.2 89.9 69.0 88.0C69.8 86.1 71.2 84.6 73.0 83.5C74.8 82.4 77.7 81.6 80.0 81.5C82.3 81.4 84.7 82.2 87.0 83.0C89.3 83.8 92.8 85.5 94.0 86.0" fill="none" stroke="#fff" stroke-width="1.8" stroke-opacity="0.9" stroke-linecap="round"/>
</g></g></g>
<rect x="371.6" y="317.3" width="92.5" height="93.5" fill="none" stroke="#2a2a2a" stroke-width="1.3"/>
<path d="M371.6 381.3h3" stroke="#2a2a2a" stroke-width="1"/>
<text x="369.6" y="386.1" text-anchor="end" font-size="14" letter-spacing="0" >1</text>
<path d="M371.6 351.4h3" stroke="#2a2a2a" stroke-width="1"/>
<text x="369.6" y="356.2" text-anchor="end" font-size="14" letter-spacing="0" >2</text>
<path d="M371.6 321.5h3" stroke="#2a2a2a" stroke-width="1"/>
<text x="369.6" y="326.3" text-anchor="end" font-size="14" letter-spacing="0" >3</text>
<path d="M430.487 410.8v-3.5" stroke="#2a2a2a" stroke-width="1"/>
<text x="430.487" y="423.8" text-anchor="middle" font-size="14" letter-spacing="0" >2</text>
<text x="366.1" y="423.8" text-anchor="middle" font-size="14" letter-spacing="0" >0</text>
<text x="416.8" y="433.1" text-anchor="middle" font-size="14.5" letter-spacing="0" ><tspan font-style="italic">x</tspan></text>
<text transform="translate(357.2 363.8) rotate(-90)" text-anchor="middle" font-size="14.5" font-style="italic">y</text>
<rect x="124.1" y="317.3" width="5" height="93.5" fill="url(#cbe)" stroke="#2a2a2a" stroke-width="1"/>
<path d="M129.1 340.6h-2.5" stroke="#2a2a2a" stroke-width="1"/>
<text x="130.7" y="345.2" text-anchor="start" font-size="12.6" letter-spacing="0.05" >0.000<tspan dx="3.7">75</tspan></text>
<path d="M129.1 363.7h-2.5" stroke="#2a2a2a" stroke-width="1"/>
<text x="130.7" y="368.3" text-anchor="start" font-size="12.6" letter-spacing="0.05" >0.000<tspan dx="3.7">50</tspan></text>
<path d="M129.1 386.8h-2.5" stroke="#2a2a2a" stroke-width="1"/>
<text x="130.7" y="391.4" text-anchor="start" font-size="12.6" letter-spacing="0.05" >0.000<tspan dx="3.7">25</tspan></text>
<text x="130.7" y="414.6" text-anchor="start" font-size="12.6" letter-spacing="0.05" >0.000<tspan dx="3.7">00</tspan></text>
<rect x="303.4" y="317.3" width="5" height="93.5" fill="url(#cbe)" stroke="#2a2a2a" stroke-width="1"/>
<text x="310.3" y="323.5" text-anchor="start" font-size="14" letter-spacing="0" >0.004</text>
<path d="M308.4 365h-2.5" stroke="#2a2a2a" stroke-width="1"/>
<text x="310.3" y="369.8" text-anchor="start" font-size="14" letter-spacing="0" >0.002</text>
<text x="310.3" y="415.2" text-anchor="start" font-size="14" letter-spacing="0" >0.000</text>
<rect x="470.1" y="317.3" width="5" height="93.5" fill="url(#cbe)" stroke="#2a2a2a" stroke-width="1"/>
<path d="M475.1 330.8h-2.5" stroke="#2a2a2a" stroke-width="1"/>
<text x="477" y="335.6" text-anchor="start" font-size="14" letter-spacing="0" >0.002</text>
<path d="M475.1 371h-2.5" stroke="#2a2a2a" stroke-width="1"/>
<text x="477" y="375.8" text-anchor="start" font-size="14" letter-spacing="0" >0.001</text>
<text x="477" y="415.2" text-anchor="start" font-size="14" letter-spacing="0" >0.000</text>
<text x="73.7" y="11.8" text-anchor="middle" font-size="14.5" letter-spacing="0.25" word-spacing="1.6">Predicted</text>
<text x="73.7" y="27.2" text-anchor="middle" font-size="14.5" letter-spacing="0.25" word-spacing="1.6">solution (<tspan font-style="italic">t</tspan><tspan dx="0.6" textLength="10.5" lengthAdjust="spacingAndGlyphs">=</tspan><tspan dx="1">0</tspan>)</text>
<text x="74" y="166" text-anchor="middle" font-size="14.5" letter-spacing="0.25" word-spacing="1.6">Exact solution (<tspan font-style="italic">t</tspan><tspan dx="0.6" textLength="10.5" lengthAdjust="spacingAndGlyphs">=</tspan><tspan dx="1">0</tspan>)</text>
<text x="74" y="307.2" text-anchor="middle" font-size="14.5" letter-spacing="0.25" word-spacing="1.6">Absolute error (<tspan font-style="italic">t</tspan><tspan dx="0.6" textLength="10.5" lengthAdjust="spacingAndGlyphs">=</tspan><tspan dx="1">0</tspan>)</text>
<text x="251.2" y="11.8" text-anchor="middle" font-size="14.5" letter-spacing="0.25" word-spacing="1.6">Predicted</text>
<text x="251.2" y="27.2" text-anchor="middle" font-size="14.5" letter-spacing="0.25" word-spacing="1.6">solution (<tspan font-style="italic">t</tspan><tspan dx="0.6" textLength="10.5" lengthAdjust="spacingAndGlyphs">=</tspan><tspan dx="1">1</tspan>)</text>
<text x="251.2" y="166" text-anchor="middle" font-size="14.5" letter-spacing="0.25" word-spacing="1.6">Exact solution (<tspan font-style="italic">t</tspan><tspan dx="0.6" textLength="10.5" lengthAdjust="spacingAndGlyphs">=</tspan><tspan dx="1">1</tspan>)</text>
<text x="251.2" y="307.2" text-anchor="middle" font-size="14.5" letter-spacing="0.25" word-spacing="1.6">Absolute error (<tspan font-style="italic">t</tspan><tspan dx="0.6" textLength="10.5" lengthAdjust="spacingAndGlyphs">=</tspan><tspan dx="1">1</tspan>)</text>
<text x="419.9" y="11.8" text-anchor="middle" font-size="14.5" letter-spacing="0.25" word-spacing="1.6">Predicted</text>
<text x="419.9" y="27.2" text-anchor="middle" font-size="14.5" letter-spacing="0.25" word-spacing="1.6">solution (<tspan font-style="italic">t</tspan><tspan dx="0.6" textLength="10.5" lengthAdjust="spacingAndGlyphs">=</tspan><tspan dx="1">2</tspan>)</text>
<text x="417" y="166" text-anchor="middle" font-size="14.5" letter-spacing="0.25" word-spacing="1.6">Exact solution (<tspan font-style="italic">t</tspan><tspan dx="0.6" textLength="10.5" lengthAdjust="spacingAndGlyphs">=</tspan><tspan dx="1">2</tspan>)</text>
<text x="417" y="307.2" text-anchor="middle" font-size="14.5" letter-spacing="0.25" word-spacing="1.6">Absolute error (<tspan font-style="italic">t</tspan><tspan dx="0.6" textLength="10.5" lengthAdjust="spacingAndGlyphs">=</tspan><tspan dx="1">2</tspan>)</text>
<text x="250.3" y="448" text-anchor="middle" font-size="14.5" letter-spacing="0.3" >(a)</text>
<text x="621.8" y="448.8" text-anchor="middle" font-size="14.5" letter-spacing="0.3" >(b)</text>
<rect x="545.6" y="50.4" width="153.3" height="122.7" fill="none" stroke="#2a2a2a" stroke-width="1.3"/>
<polyline points="552.20,56.60 553.96,59.78 555.72,62.87 557.48,65.89 559.24,68.84 560.99,71.71 562.75,74.51 564.51,77.25 566.27,79.91 568.03,82.51 569.79,85.05 571.55,87.52 573.31,89.93 575.06,92.28 576.82,94.58 578.58,96.81 580.34,99.00 582.10,101.13 583.86,103.20 585.62,105.23 587.38,107.20 589.13,109.13 590.89,111.00 592.65,112.84 594.41,114.62 596.17,116.37 597.93,118.06 599.69,119.72 601.45,121.34 603.20,122.92 604.96,124.45 606.72,125.95 608.48,127.42 610.24,128.84 612.00,130.23 613.76,131.59 615.52,132.92 617.27,134.21 619.03,135.47 620.79,136.69 622.55,137.89 624.31,139.06 626.07,140.20 627.83,141.31 629.59,142.39 631.34,143.45 633.10,144.48 634.86,145.49 636.62,146.47 638.38,147.42 640.14,148.36 641.90,149.27 643.66,150.15 645.41,151.02 647.17,151.86 648.93,152.68 650.69,153.49 652.45,154.27 654.21,155.03 655.97,155.78 657.73,156.51 659.48,157.21 661.24,157.90 663.00,158.58 664.76,159.24 666.52,159.88 668.28,160.50 670.04,161.11 671.80,161.71 673.55,162.29 675.31,162.85 677.07,163.40 678.83,163.94 680.59,164.47 682.35,164.98 684.11,165.48 685.87,165.97 687.62,166.44 689.38,166.90 691.14,167.36 692.90,167.80" fill="none" stroke="#f04f3d" stroke-width="1.25"/>
<polyline points="552.20,56.60 553.96,59.78 555.72,62.87 557.48,65.89 559.24,68.84 560.99,71.71 562.75,74.51 564.51,77.25 566.27,79.91 568.03,82.51 569.79,85.05 571.55,87.52 573.31,89.93 575.06,92.28 576.82,94.58 578.58,96.81 580.34,99.00 582.10,101.13 583.86,103.20 585.62,105.23 587.38,107.20 589.13,109.13 590.89,111.00 592.65,112.84 594.41,114.62 596.17,116.37 597.93,118.06 599.69,119.72 601.45,121.34 603.20,122.92 604.96,124.45 606.72,125.95 608.48,127.42 610.24,128.84 612.00,130.23 613.76,131.59 615.52,132.92 617.27,134.21 619.03,135.47 620.79,136.69 622.55,137.89 624.31,139.06 626.07,140.20 627.83,141.31 629.59,142.39 631.34,143.45 633.10,144.48 634.86,145.49 636.62,146.47 638.38,147.42 640.14,148.36 641.90,149.27 643.66,150.15 645.41,151.02 647.17,151.86 648.93,152.68 650.69,153.49 652.45,154.27 654.21,155.03 655.97,155.78 657.73,156.51 659.48,157.21 661.24,157.90 663.00,158.58 664.76,159.24 666.52,159.88 668.28,160.50 670.04,161.11 671.80,161.71 673.55,162.29 675.31,162.85 677.07,163.40 678.83,163.94 680.59,164.47 682.35,164.98 684.11,165.48 685.87,165.97 687.62,166.44 689.38,166.90 691.14,167.36 692.90,167.80" fill="none" stroke="#bea83a" stroke-width="1.3" stroke-dasharray="6 4.3"/>
<path d="M545.6 56.6h4" stroke="#2a2a2a" stroke-width="1"/>
<text x="543.6" y="61.4" text-anchor="end" font-size="14" letter-spacing="0" >1.0</text>
<path d="M545.6 82.32h4" stroke="#2a2a2a" stroke-width="1"/>
<text x="543.6" y="87.12" text-anchor="end" font-size="14" letter-spacing="0" >0.8</text>
<path d="M545.6 108.04h4" stroke="#2a2a2a" stroke-width="1"/>
<text x="543.6" y="112.84" text-anchor="end" font-size="14" letter-spacing="0" >0.6</text>
<path d="M545.6 133.76h4" stroke="#2a2a2a" stroke-width="1"/>
<text x="543.6" y="138.56" text-anchor="end" font-size="14" letter-spacing="0" >0.4</text>
<path d="M545.6 159.48h4" stroke="#2a2a2a" stroke-width="1"/>
<text x="543.6" y="164.28" text-anchor="end" font-size="14" letter-spacing="0" >0.2</text>
<path d="M552.2 173.1v-4" stroke="#2a2a2a" stroke-width="1"/>
<text x="552.5" y="186.8" text-anchor="middle" font-size="14" letter-spacing="0" >0</text>
<path d="M622.55 173.1v-4" stroke="#2a2a2a" stroke-width="1"/>
<text x="622.85" y="186.8" text-anchor="middle" font-size="14" letter-spacing="0" >1</text>
<path d="M692.9 173.1v-4" stroke="#2a2a2a" stroke-width="1"/>
<text x="693.2" y="186.8" text-anchor="middle" font-size="14" letter-spacing="0" >2</text>
<text x="623.05" y="202.2" text-anchor="middle" font-size="14.5" letter-spacing="0" ><tspan font-style="italic">t</tspan></text>
<path d="M608 63.9H634.3" stroke="#f04f3d" stroke-width="1.25"/>
<path d="M608 79.4H634.3" stroke="#c6ba48" stroke-width="1.25" stroke-dasharray="5 2.1"/>
<text x="638" y="68.9" text-anchor="start" font-size="14.5" letter-spacing="0.1" >Exact</text>
<text x="638" y="84.8" text-anchor="start" font-size="14.5" letter-spacing="0.25" >Predicted</text>
<rect x="545.6" y="236.3" width="153.3" height="122.6" fill="none" stroke="#2a2a2a" stroke-width="1.3"/>
<polyline points="552.20,353.44 553.96,350.26 555.72,347.16 557.48,344.13 559.24,341.18 560.99,338.31 562.75,335.50 564.51,332.76 566.27,330.09 568.03,327.49 569.79,324.95 571.55,322.47 573.31,320.06 575.06,317.70 576.82,315.40 578.58,313.16 580.34,310.98 582.10,308.85 583.86,306.77 585.62,304.74 587.38,302.76 589.13,300.83 590.89,298.95 592.65,297.12 594.41,295.33 596.17,293.58 597.93,291.88 599.69,290.22 601.45,288.60 603.20,287.02 604.96,285.48 606.72,283.98 608.48,282.51 610.24,281.08 612.00,279.69 613.76,278.33 615.52,277.01 617.27,275.71 619.03,274.45 620.79,273.22 622.55,272.02 624.31,270.85 626.07,269.71 627.83,268.60 629.59,267.51 631.34,266.46 633.10,265.42 634.86,264.42 636.62,263.43 638.38,262.48 640.14,261.54 641.90,260.63 643.66,259.74 645.41,258.88 647.17,258.03 648.93,257.21 650.69,256.40 652.45,255.62 654.21,254.85 655.97,254.11 657.73,253.38 659.48,252.67 661.24,251.98 663.00,251.30 664.76,250.64 666.52,250.00 668.28,249.38 670.04,248.77 671.80,248.17 673.55,247.59 675.31,247.02 677.07,246.47 678.83,245.93 680.59,245.40 682.35,244.89 684.11,244.39 685.87,243.90 687.62,243.43 689.38,242.96 691.14,242.51 692.90,242.07" fill="none" stroke="#f04f3d" stroke-width="1.25"/>
<polyline points="552.20,353.44 553.96,350.26 555.72,347.16 557.48,344.13 559.24,341.18 560.99,338.31 562.75,335.50 564.51,332.76 566.27,330.09 568.03,327.49 569.79,324.95 571.55,322.47 573.31,320.06 575.06,317.70 576.82,315.40 578.58,313.16 580.34,310.98 582.10,308.85 583.86,306.77 585.62,304.74 587.38,302.76 589.13,300.83 590.89,298.95 592.65,297.12 594.41,295.33 596.17,293.58 597.93,291.88 599.69,290.22 601.45,288.60 603.20,287.02 604.96,285.48 606.72,283.98 608.48,282.51 610.24,281.08 612.00,279.69 613.76,278.33 615.52,277.01 617.27,275.71 619.03,274.45 620.79,273.22 622.55,272.02 624.31,270.85 626.07,269.71 627.83,268.60 629.59,267.51 631.34,266.46 633.10,265.42 634.86,264.42 636.62,263.43 638.38,262.48 640.14,261.54 641.90,260.63 643.66,259.74 645.41,258.88 647.17,258.03 648.93,257.21 650.69,256.40 652.45,255.62 654.21,254.85 655.97,254.11 657.73,253.38 659.48,252.67 661.24,251.98 663.00,251.30 664.76,250.64 666.52,250.00 668.28,249.38 670.04,248.77 671.80,248.17 673.55,247.59 675.31,247.02 677.07,246.47 678.83,245.93 680.59,245.40 682.35,244.89 684.11,244.39 685.87,243.90 687.62,243.43 689.38,242.96 691.14,242.51 692.90,242.07" fill="none" stroke="#bea83a" stroke-width="1.3" stroke-dasharray="6 4.3"/>
<path d="M545.6 250.4h4" stroke="#2a2a2a" stroke-width="1"/>
<text x="543.6" y="255.2" text-anchor="end" font-size="14" letter-spacing="0" ><tspan textLength="9.4" lengthAdjust="spacingAndGlyphs">−</tspan><tspan dx="0.9">0.2</tspan></text>
<path d="M545.6 276.16h4" stroke="#2a2a2a" stroke-width="1"/>
<text x="543.6" y="280.96" text-anchor="end" font-size="14" letter-spacing="0" ><tspan textLength="9.4" lengthAdjust="spacingAndGlyphs">−</tspan><tspan dx="0.9">0.4</tspan></text>
<path d="M545.6 301.92h4" stroke="#2a2a2a" stroke-width="1"/>
<text x="543.6" y="306.72" text-anchor="end" font-size="14" letter-spacing="0" ><tspan textLength="9.4" lengthAdjust="spacingAndGlyphs">−</tspan><tspan dx="0.9">0.6</tspan></text>
<path d="M545.6 327.68h4" stroke="#2a2a2a" stroke-width="1"/>
<text x="543.6" y="332.48" text-anchor="end" font-size="14" letter-spacing="0" ><tspan textLength="9.4" lengthAdjust="spacingAndGlyphs">−</tspan><tspan dx="0.9">0.8</tspan></text>
<path d="M545.6 353.44h4" stroke="#2a2a2a" stroke-width="1"/>
<text x="543.6" y="358.24" text-anchor="end" font-size="14" letter-spacing="0" ><tspan textLength="9.4" lengthAdjust="spacingAndGlyphs">−</tspan><tspan dx="0.9">1.0</tspan></text>
<path d="M552.2 358.9v-4" stroke="#2a2a2a" stroke-width="1"/>
<text x="552.5" y="373.6" text-anchor="middle" font-size="14" letter-spacing="0" >0</text>
<path d="M622.55 358.9v-4" stroke="#2a2a2a" stroke-width="1"/>
<text x="622.85" y="373.6" text-anchor="middle" font-size="14" letter-spacing="0" >1</text>
<path d="M692.9 358.9v-4" stroke="#2a2a2a" stroke-width="1"/>
<text x="693.2" y="373.6" text-anchor="middle" font-size="14" letter-spacing="0" >2</text>
<text x="623.05" y="389.7" text-anchor="middle" font-size="14.5" letter-spacing="0" ><tspan font-style="italic">t</tspan></text>
<path d="M608 307.9H634.3" stroke="#f04f3d" stroke-width="1.25"/>
<path d="M608 323.4H634.3" stroke="#c6ba48" stroke-width="1.25" stroke-dasharray="5 2.1"/>
<text x="638" y="312.9" text-anchor="start" font-size="14.5" letter-spacing="0.1" >Exact</text>
<text x="638" y="328.8" text-anchor="start" font-size="14.5" letter-spacing="0.25" >Predicted</text>
<text x="622.6" y="27.2" text-anchor="middle" font-size="14.5" letter-spacing="0.2" word-spacing="1.2">Solution at one</text>
<text x="622.6" y="43.4" text-anchor="middle" font-size="14.5" letter-spacing="0.2" word-spacing="1.2">extreme point</text>
</svg>
</body></html>
